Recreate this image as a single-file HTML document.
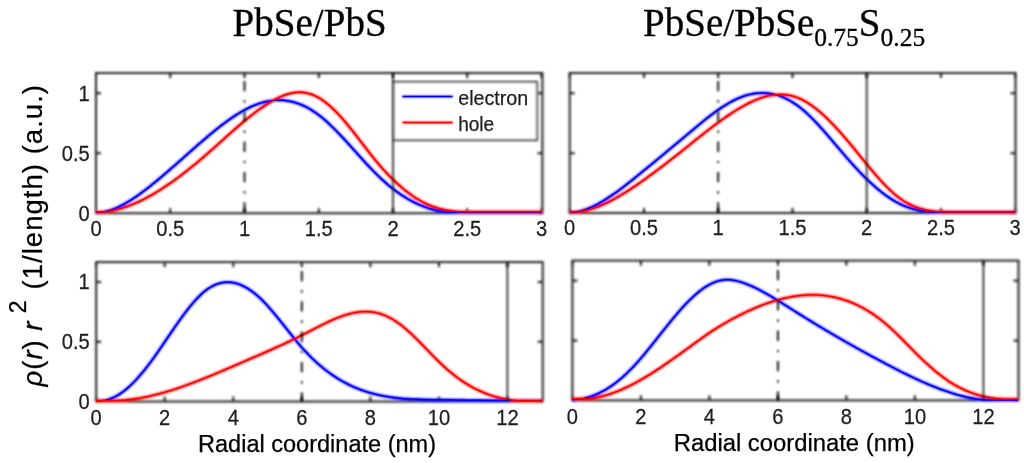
<!DOCTYPE html>
<html><head><meta charset="utf-8"><title>Radial probability densities</title>
<style>html,body{margin:0;padding:0;background:#fff;} svg{display:block;}</style></head>
<body>
<svg width="1024" height="463" viewBox="0 0 1024 463">
<defs><filter id="soft" x="-2%" y="-2%" width="104%" height="104%"><feGaussianBlur stdDeviation="0.8"/></filter></defs>
<rect width="1024" height="463" fill="#fff"/>
<g filter="url(#soft)">
<line x1="96.0" y1="213.2" x2="96.0" y2="208.2" stroke="#1a1a1a" stroke-width="2"/>
<line x1="96.0" y1="73" x2="96.0" y2="78" stroke="#1a1a1a" stroke-width="2"/>
<line x1="170.2" y1="213.2" x2="170.2" y2="208.2" stroke="#1a1a1a" stroke-width="2"/>
<line x1="170.2" y1="73" x2="170.2" y2="78" stroke="#1a1a1a" stroke-width="2"/>
<line x1="244.5" y1="213.2" x2="244.5" y2="208.2" stroke="#1a1a1a" stroke-width="2"/>
<line x1="244.5" y1="73" x2="244.5" y2="78" stroke="#1a1a1a" stroke-width="2"/>
<line x1="318.8" y1="213.2" x2="318.8" y2="208.2" stroke="#1a1a1a" stroke-width="2"/>
<line x1="318.8" y1="73" x2="318.8" y2="78" stroke="#1a1a1a" stroke-width="2"/>
<line x1="393.0" y1="213.2" x2="393.0" y2="208.2" stroke="#1a1a1a" stroke-width="2"/>
<line x1="393.0" y1="73" x2="393.0" y2="78" stroke="#1a1a1a" stroke-width="2"/>
<line x1="467.2" y1="213.2" x2="467.2" y2="208.2" stroke="#1a1a1a" stroke-width="2"/>
<line x1="467.2" y1="73" x2="467.2" y2="78" stroke="#1a1a1a" stroke-width="2"/>
<line x1="541.5" y1="213.2" x2="541.5" y2="208.2" stroke="#1a1a1a" stroke-width="2"/>
<line x1="541.5" y1="73" x2="541.5" y2="78" stroke="#1a1a1a" stroke-width="2"/>
<line x1="96" y1="213.2" x2="101" y2="213.2" stroke="#1a1a1a" stroke-width="2"/>
<line x1="542.4" y1="213.2" x2="537.4" y2="213.2" stroke="#1a1a1a" stroke-width="2"/>
<line x1="96" y1="153.2" x2="101" y2="153.2" stroke="#1a1a1a" stroke-width="2"/>
<line x1="542.4" y1="153.2" x2="537.4" y2="153.2" stroke="#1a1a1a" stroke-width="2"/>
<line x1="96" y1="93.2" x2="101" y2="93.2" stroke="#1a1a1a" stroke-width="2"/>
<line x1="542.4" y1="93.2" x2="537.4" y2="93.2" stroke="#1a1a1a" stroke-width="2"/>
<rect x="96" y="73" width="446.4" height="140.2" fill="none" stroke="#1a1a1a" stroke-width="1.9"/>
<path d="M96.0,212.4 L97.5,212.4 L99.0,212.3 L100.5,212.2 L102.0,212.0 L103.5,211.8 L105.0,211.5 L106.5,211.1 L108.0,210.8 L109.5,210.3 L111.0,209.9 L112.5,209.3 L114.0,208.8 L115.5,208.2 L117.0,207.6 L118.5,206.9 L120.0,206.2 L121.5,205.4 L123.0,204.7 L124.5,203.8 L126.0,203.0 L127.5,202.1 L129.0,201.2 L130.5,200.3 L132.0,199.3 L133.5,198.4 L135.0,197.3 L136.5,196.3 L138.0,195.3 L139.5,194.2 L141.0,193.1 L142.5,192.0 L144.0,190.9 L145.5,189.7 L147.0,188.6 L148.5,187.4 L150.0,186.2 L151.5,185.0 L153.0,183.8 L154.5,182.6 L156.0,181.4 L157.5,180.1 L159.0,178.9 L160.5,177.6 L162.0,176.4 L163.5,175.1 L165.0,173.8 L166.5,172.5 L168.0,171.2 L169.5,169.9 L171.0,168.6 L172.5,167.3 L174.0,166.0 L175.5,164.7 L177.0,163.4 L178.5,162.0 L180.0,160.7 L181.5,159.4 L183.0,158.1 L184.5,156.7 L186.0,155.4 L187.5,154.1 L189.0,152.8 L190.5,151.4 L192.0,150.1 L193.5,148.8 L195.0,147.5 L196.5,146.1 L198.0,144.8 L199.5,143.5 L201.0,142.2 L202.5,140.9 L204.0,139.6 L205.5,138.4 L207.0,137.1 L208.5,135.8 L210.0,134.6 L211.5,133.3 L213.0,132.1 L214.5,130.9 L216.0,129.6 L217.5,128.4 L219.0,127.3 L220.5,126.1 L222.0,124.9 L223.5,123.8 L225.0,122.7 L226.5,121.6 L228.0,120.5 L229.5,119.4 L231.0,118.4 L232.5,117.4 L234.0,116.4 L235.5,115.4 L237.0,114.4 L238.5,113.5 L240.0,112.6 L241.5,111.7 L243.0,110.9 L244.5,110.0 L246.0,109.2 L247.5,108.5 L249.0,107.7 L250.5,107.0 L252.0,106.3 L253.5,105.7 L255.0,105.1 L256.5,104.5 L258.0,103.9 L259.5,103.4 L261.0,102.9 L262.5,102.5 L264.0,102.1 L265.5,101.7 L267.0,101.4 L268.5,101.1 L270.0,100.9 L271.5,100.6 L273.0,100.5 L274.5,100.3 L276.0,100.2 L277.5,100.2 L279.0,100.2 L280.5,100.2 L282.0,100.2 L283.5,100.3 L285.0,100.5 L286.5,100.7 L288.0,100.9 L289.5,101.2 L291.0,101.5 L292.5,101.8 L294.0,102.2 L295.5,102.7 L297.0,103.1 L298.5,103.7 L300.0,104.2 L301.5,104.8 L303.0,105.5 L304.5,106.2 L306.0,106.9 L307.5,107.7 L309.0,108.5 L310.5,109.4 L312.0,110.3 L313.5,111.3 L315.0,112.3 L316.5,113.4 L318.0,114.5 L319.5,115.6 L321.0,116.8 L322.5,118.0 L324.0,119.3 L325.5,120.6 L327.0,121.9 L328.5,123.3 L330.0,124.7 L331.5,126.2 L333.0,127.6 L334.5,129.1 L336.0,130.6 L337.5,132.2 L339.0,133.7 L340.5,135.3 L342.0,136.9 L343.5,138.5 L345.0,140.1 L346.5,141.7 L348.0,143.4 L349.5,145.0 L351.0,146.7 L352.5,148.4 L354.0,150.0 L355.5,151.7 L357.0,153.4 L358.5,155.0 L360.0,156.7 L361.5,158.3 L363.0,160.0 L364.5,161.6 L366.0,163.3 L367.5,164.9 L369.0,166.5 L370.5,168.1 L372.0,169.6 L373.5,171.2 L375.0,172.7 L376.5,174.2 L378.0,175.7 L379.5,177.1 L381.0,178.6 L382.5,179.9 L384.0,181.3 L385.5,182.6 L387.0,183.9 L388.5,185.2 L390.0,186.4 L391.5,187.6 L393.0,188.8 L394.5,190.0 L396.0,191.1 L397.5,192.2 L399.0,193.2 L400.5,194.3 L402.0,195.3 L403.5,196.2 L405.0,197.2 L406.5,198.1 L408.0,199.0 L409.5,199.8 L411.0,200.7 L412.5,201.5 L414.0,202.2 L415.5,203.0 L417.0,203.7 L418.5,204.4 L420.0,205.0 L421.5,205.6 L423.0,206.2 L424.5,206.8 L426.0,207.3 L427.5,207.9 L429.0,208.4 L430.5,208.8 L432.0,209.2 L433.5,209.7 L435.0,210.0 L436.5,210.4 L438.0,210.7 L439.5,211.0 L441.0,211.3 L442.5,211.5 L444.0,211.8 L445.5,212.0 L447.0,212.2 L448.5,212.3 L450.0,212.4 L451.5,212.4 L453.0,212.4 L454.5,212.4 L456.0,212.4 L457.5,212.4 L459.0,212.4 L460.5,212.4 L462.0,212.4 L463.5,212.4 L465.0,212.4 L466.5,212.4 L468.0,212.4 L469.5,212.4 L471.0,212.4 L472.5,212.4 L474.0,212.4 L475.5,212.4 L477.0,212.4 L478.5,212.4 L480.0,212.4 L481.5,212.4 L483.0,212.4 L484.5,212.4 L486.0,212.4 L487.5,212.4 L489.0,212.4 L490.5,212.4 L492.0,212.4 L493.5,212.4 L495.0,212.4 L496.5,212.4 L498.0,212.4 L499.5,212.4 L501.0,212.4 L502.5,212.4 L504.0,212.4 L505.5,212.4 L507.0,212.4 L508.5,212.4 L510.0,212.4 L511.5,212.4 L513.0,212.4 L514.5,212.4 L516.0,212.4 L517.5,212.4 L519.0,212.4 L520.5,212.4 L522.0,212.4 L523.5,212.4 L525.0,212.4 L526.5,212.4 L528.0,212.4 L529.5,212.4 L531.0,212.4 L532.5,212.4 L534.0,212.4 L535.5,212.4 L537.0,212.4 L538.5,212.4 L540.0,212.4 L541.5,212.4 L542.0,212.4" fill="none" stroke="#0000ff" stroke-width="2.6" stroke-linejoin="round" />
<path d="M96.0,212.0 L97.5,212.0 L99.0,212.0 L100.5,212.0 L102.0,212.0 L103.5,212.0 L105.0,211.8 L106.5,211.6 L108.0,211.4 L109.5,211.1 L111.0,210.8 L112.5,210.5 L114.0,210.2 L115.5,209.9 L117.0,209.5 L118.5,209.1 L120.0,208.7 L121.5,208.3 L123.0,207.8 L124.5,207.3 L126.0,206.8 L127.5,206.3 L129.0,205.7 L130.5,205.2 L132.0,204.6 L133.5,203.9 L135.0,203.3 L136.5,202.7 L138.0,202.0 L139.5,201.3 L141.0,200.6 L142.5,199.8 L144.0,199.1 L145.5,198.3 L147.0,197.5 L148.5,196.7 L150.0,195.9 L151.5,195.1 L153.0,194.2 L154.5,193.3 L156.0,192.4 L157.5,191.5 L159.0,190.6 L160.5,189.6 L162.0,188.7 L163.5,187.7 L165.0,186.7 L166.5,185.7 L168.0,184.7 L169.5,183.7 L171.0,182.6 L172.5,181.6 L174.0,180.5 L175.5,179.4 L177.0,178.3 L178.5,177.2 L180.0,176.1 L181.5,174.9 L183.0,173.8 L184.5,172.6 L186.0,171.4 L187.5,170.2 L189.0,169.1 L190.5,167.8 L192.0,166.6 L193.5,165.4 L195.0,164.2 L196.5,162.9 L198.0,161.7 L199.5,160.4 L201.0,159.1 L202.5,157.9 L204.0,156.6 L205.5,155.3 L207.0,154.0 L208.5,152.6 L210.0,151.3 L211.5,150.0 L213.0,148.7 L214.5,147.3 L216.0,146.0 L217.5,144.7 L219.0,143.3 L220.5,142.0 L222.0,140.6 L223.5,139.3 L225.0,137.9 L226.5,136.6 L228.0,135.2 L229.5,133.9 L231.0,132.5 L232.5,131.2 L234.0,129.9 L235.5,128.6 L237.0,127.3 L238.5,126.0 L240.0,124.7 L241.5,123.4 L243.0,122.1 L244.5,120.9 L246.0,119.6 L247.5,118.4 L249.0,117.2 L250.5,116.0 L252.0,114.8 L253.5,113.7 L255.0,112.5 L256.5,111.4 L258.0,110.3 L259.5,109.2 L261.0,108.1 L262.5,107.1 L264.0,106.1 L265.5,105.1 L267.0,104.1 L268.5,103.2 L270.0,102.3 L271.5,101.4 L273.0,100.5 L274.5,99.7 L276.0,98.9 L277.5,98.2 L279.0,97.4 L280.5,96.8 L282.0,96.1 L283.5,95.5 L285.0,95.0 L286.5,94.5 L288.0,94.0 L289.5,93.6 L291.0,93.3 L292.5,93.0 L294.0,92.7 L295.5,92.5 L297.0,92.4 L298.5,92.3 L300.0,92.3 L301.5,92.3 L303.0,92.4 L304.5,92.6 L306.0,92.9 L307.5,93.2 L309.0,93.6 L310.5,94.0 L312.0,94.5 L313.5,95.1 L315.0,95.8 L316.5,96.6 L318.0,97.4 L319.5,98.2 L321.0,99.2 L322.5,100.2 L324.0,101.3 L325.5,102.4 L327.0,103.6 L328.5,104.8 L330.0,106.1 L331.5,107.5 L333.0,108.9 L334.5,110.3 L336.0,111.8 L337.5,113.4 L339.0,114.9 L340.5,116.6 L342.0,118.2 L343.5,119.9 L345.0,121.7 L346.5,123.5 L348.0,125.3 L349.5,127.1 L351.0,129.0 L352.5,130.9 L354.0,132.8 L355.5,134.7 L357.0,136.6 L358.5,138.6 L360.0,140.6 L361.5,142.5 L363.0,144.5 L364.5,146.4 L366.0,148.4 L367.5,150.3 L369.0,152.2 L370.5,154.2 L372.0,156.0 L373.5,157.9 L375.0,159.7 L376.5,161.6 L378.0,163.3 L379.5,165.1 L381.0,166.8 L382.5,168.5 L384.0,170.2 L385.5,171.8 L387.0,173.4 L388.5,175.0 L390.0,176.5 L391.5,178.0 L393.0,179.5 L394.5,181.0 L396.0,182.4 L397.5,183.8 L399.0,185.1 L400.5,186.4 L402.0,187.7 L403.5,189.0 L405.0,190.2 L406.5,191.4 L408.0,192.5 L409.5,193.7 L411.0,194.7 L412.5,195.8 L414.0,196.8 L415.5,197.8 L417.0,198.7 L418.5,199.6 L420.0,200.5 L421.5,201.4 L423.0,202.2 L424.5,202.9 L426.0,203.7 L427.5,204.3 L429.0,205.0 L430.5,205.6 L432.0,206.2 L433.5,206.7 L435.0,207.2 L436.5,207.7 L438.0,208.2 L439.5,208.6 L441.0,209.0 L442.5,209.3 L444.0,209.6 L445.5,209.9 L447.0,210.2 L448.5,210.5 L450.0,210.7 L451.5,210.9 L453.0,211.1 L454.5,211.2 L456.0,211.4 L457.5,211.5 L459.0,211.6 L460.5,211.7 L462.0,211.8 L463.5,211.8 L465.0,211.9 L466.5,211.9 L468.0,211.9 L469.5,211.9 L471.0,211.9 L472.5,211.9 L474.0,211.9 L475.5,211.9 L477.0,211.9 L478.5,211.9 L480.0,211.9 L481.5,211.9 L483.0,211.9 L484.5,211.9 L486.0,211.9 L487.5,211.9 L489.0,211.9 L490.5,211.9 L492.0,211.9 L493.5,211.9 L495.0,211.9 L496.5,211.9 L498.0,211.9 L499.5,211.9 L501.0,211.9 L502.5,211.9 L504.0,211.9 L505.5,211.9 L507.0,211.9 L508.5,211.9 L510.0,211.9 L511.5,211.9 L513.0,211.9 L514.5,211.9 L516.0,211.9 L517.5,211.9 L519.0,211.9 L520.5,211.9 L522.0,211.9 L523.5,211.9 L525.0,211.9 L526.5,211.9 L528.0,211.9 L529.5,211.9 L531.0,211.9 L532.5,211.9 L534.0,211.9 L535.5,211.9 L537.0,211.9 L538.5,211.9 L540.0,211.9 L541.5,211.9 L542.0,211.9" fill="none" stroke="#ff0000" stroke-width="2.6" stroke-linejoin="round" />
<line x1="569.7" y1="213.0" x2="569.7" y2="208.0" stroke="#1a1a1a" stroke-width="2"/>
<line x1="569.7" y1="73" x2="569.7" y2="78" stroke="#1a1a1a" stroke-width="2"/>
<line x1="644.0" y1="213.0" x2="644.0" y2="208.0" stroke="#1a1a1a" stroke-width="2"/>
<line x1="644.0" y1="73" x2="644.0" y2="78" stroke="#1a1a1a" stroke-width="2"/>
<line x1="718.2" y1="213.0" x2="718.2" y2="208.0" stroke="#1a1a1a" stroke-width="2"/>
<line x1="718.2" y1="73" x2="718.2" y2="78" stroke="#1a1a1a" stroke-width="2"/>
<line x1="792.5" y1="213.0" x2="792.5" y2="208.0" stroke="#1a1a1a" stroke-width="2"/>
<line x1="792.5" y1="73" x2="792.5" y2="78" stroke="#1a1a1a" stroke-width="2"/>
<line x1="866.7" y1="213.0" x2="866.7" y2="208.0" stroke="#1a1a1a" stroke-width="2"/>
<line x1="866.7" y1="73" x2="866.7" y2="78" stroke="#1a1a1a" stroke-width="2"/>
<line x1="941.0" y1="213.0" x2="941.0" y2="208.0" stroke="#1a1a1a" stroke-width="2"/>
<line x1="941.0" y1="73" x2="941.0" y2="78" stroke="#1a1a1a" stroke-width="2"/>
<line x1="1015.2" y1="213.0" x2="1015.2" y2="208.0" stroke="#1a1a1a" stroke-width="2"/>
<line x1="1015.2" y1="73" x2="1015.2" y2="78" stroke="#1a1a1a" stroke-width="2"/>
<line x1="569.7" y1="213.2" x2="574.7" y2="213.2" stroke="#1a1a1a" stroke-width="2"/>
<line x1="1015.5" y1="213.2" x2="1010.5" y2="213.2" stroke="#1a1a1a" stroke-width="2"/>
<line x1="569.7" y1="153.2" x2="574.7" y2="153.2" stroke="#1a1a1a" stroke-width="2"/>
<line x1="1015.5" y1="153.2" x2="1010.5" y2="153.2" stroke="#1a1a1a" stroke-width="2"/>
<line x1="569.7" y1="93.2" x2="574.7" y2="93.2" stroke="#1a1a1a" stroke-width="2"/>
<line x1="1015.5" y1="93.2" x2="1010.5" y2="93.2" stroke="#1a1a1a" stroke-width="2"/>
<rect x="569.7" y="73" width="445.79999999999995" height="140.0" fill="none" stroke="#1a1a1a" stroke-width="1.9"/>
<path d="M570.0,212.0 L571.5,212.0 L573.0,212.0 L574.5,212.0 L576.0,212.0 L577.5,211.8 L579.0,211.4 L580.5,211.0 L582.0,210.6 L583.5,210.1 L585.0,209.6 L586.5,209.1 L588.0,208.5 L589.5,207.9 L591.0,207.3 L592.5,206.6 L594.0,205.9 L595.5,205.1 L597.0,204.4 L598.5,203.6 L600.0,202.7 L601.5,201.9 L603.0,201.0 L604.5,200.1 L606.0,199.2 L607.5,198.2 L609.0,197.2 L610.5,196.2 L612.0,195.2 L613.5,194.2 L615.0,193.1 L616.5,192.1 L618.0,191.0 L619.5,189.9 L621.0,188.7 L622.5,187.6 L624.0,186.5 L625.5,185.3 L627.0,184.1 L628.5,182.9 L630.0,181.8 L631.5,180.6 L633.0,179.4 L634.5,178.1 L636.0,176.9 L637.5,175.7 L639.0,174.5 L640.5,173.3 L642.0,172.0 L643.5,170.8 L645.0,169.6 L646.5,168.4 L648.0,167.1 L649.5,165.9 L651.0,164.7 L652.5,163.4 L654.0,162.2 L655.5,161.0 L657.0,159.7 L658.5,158.5 L660.0,157.2 L661.5,156.0 L663.0,154.8 L664.5,153.5 L666.0,152.3 L667.5,151.0 L669.0,149.8 L670.5,148.5 L672.0,147.3 L673.5,146.0 L675.0,144.8 L676.5,143.5 L678.0,142.3 L679.5,141.0 L681.0,139.8 L682.5,138.5 L684.0,137.2 L685.5,136.0 L687.0,134.7 L688.5,133.5 L690.0,132.2 L691.5,130.9 L693.0,129.7 L694.5,128.4 L696.0,127.2 L697.5,125.9 L699.0,124.7 L700.5,123.5 L702.0,122.2 L703.5,121.0 L705.0,119.8 L706.5,118.6 L708.0,117.4 L709.5,116.3 L711.0,115.1 L712.5,114.0 L714.0,112.9 L715.5,111.8 L717.0,110.7 L718.5,109.7 L720.0,108.6 L721.5,107.6 L723.0,106.6 L724.5,105.7 L726.0,104.8 L727.5,103.9 L729.0,103.0 L730.5,102.1 L732.0,101.3 L733.5,100.5 L735.0,99.8 L736.5,99.1 L738.0,98.4 L739.5,97.8 L741.0,97.2 L742.5,96.6 L744.0,96.1 L745.5,95.6 L747.0,95.1 L748.5,94.7 L750.0,94.4 L751.5,94.1 L753.0,93.8 L754.5,93.5 L756.0,93.3 L757.5,93.2 L759.0,93.1 L760.5,93.0 L762.0,93.0 L763.5,93.0 L765.0,93.0 L766.5,93.1 L768.0,93.3 L769.5,93.5 L771.0,93.7 L772.5,94.0 L774.0,94.3 L775.5,94.7 L777.0,95.1 L778.5,95.5 L780.0,96.1 L781.5,96.6 L783.0,97.2 L784.5,97.9 L786.0,98.6 L787.5,99.3 L789.0,100.1 L790.5,101.0 L792.0,101.8 L793.5,102.8 L795.0,103.8 L796.5,104.8 L798.0,105.9 L799.5,107.1 L801.0,108.3 L802.5,109.5 L804.0,110.8 L805.5,112.1 L807.0,113.5 L808.5,114.9 L810.0,116.3 L811.5,117.8 L813.0,119.3 L814.5,120.8 L816.0,122.4 L817.5,124.0 L819.0,125.6 L820.5,127.3 L822.0,128.9 L823.5,130.6 L825.0,132.3 L826.5,134.0 L828.0,135.8 L829.5,137.5 L831.0,139.3 L832.5,141.0 L834.0,142.8 L835.5,144.6 L837.0,146.3 L838.5,148.1 L840.0,149.9 L841.5,151.6 L843.0,153.4 L844.5,155.1 L846.0,156.9 L847.5,158.6 L849.0,160.3 L850.5,162.0 L852.0,163.7 L853.5,165.3 L855.0,167.0 L856.5,168.6 L858.0,170.2 L859.5,171.8 L861.0,173.3 L862.5,174.9 L864.0,176.4 L865.5,177.9 L867.0,179.3 L868.5,180.8 L870.0,182.2 L871.5,183.6 L873.0,184.9 L874.5,186.3 L876.0,187.6 L877.5,188.9 L879.0,190.1 L880.5,191.3 L882.0,192.5 L883.5,193.6 L885.0,194.8 L886.5,195.8 L888.0,196.9 L889.5,197.9 L891.0,198.9 L892.5,199.8 L894.0,200.7 L895.5,201.6 L897.0,202.4 L898.5,203.2 L900.0,204.0 L901.5,204.7 L903.0,205.4 L904.5,206.0 L906.0,206.6 L907.5,207.2 L909.0,207.7 L910.5,208.2 L912.0,208.6 L913.5,209.1 L915.0,209.4 L916.5,209.8 L918.0,210.1 L919.5,210.5 L921.0,210.7 L922.5,211.0 L924.0,211.2 L925.5,211.4 L927.0,211.6 L928.5,211.8 L930.0,211.9 L931.5,212.0 L933.0,212.0 L934.5,212.0 L936.0,212.0 L937.5,212.0 L939.0,212.0 L940.5,212.0 L942.0,212.0 L943.5,212.0 L945.0,212.0 L946.5,212.0 L948.0,212.0 L949.5,212.0 L951.0,212.0 L952.5,212.0 L954.0,212.0 L955.5,212.0 L957.0,212.0 L958.5,212.0 L960.0,212.0 L961.5,212.0 L963.0,212.0 L964.5,212.0 L966.0,212.0 L967.5,212.0 L969.0,212.0 L970.5,212.0 L972.0,212.0 L973.5,212.0 L975.0,212.0 L976.5,212.0 L978.0,212.0 L979.5,212.0 L981.0,212.0 L982.5,212.0 L984.0,212.0 L985.5,212.0 L987.0,212.0 L988.5,212.0 L990.0,212.0 L991.5,212.0 L993.0,212.0 L994.5,212.0 L996.0,212.0 L997.5,212.0 L999.0,212.0 L1000.5,212.0 L1002.0,212.0 L1003.5,212.0 L1005.0,212.0 L1006.5,212.0 L1008.0,212.0 L1009.5,212.0 L1011.0,212.0 L1012.5,212.0 L1014.0,212.0 L1015.0,212.0" fill="none" stroke="#0000ff" stroke-width="2.6" stroke-linejoin="round" />
<path d="M570.0,212.0 L571.5,212.0 L573.0,212.0 L574.5,212.0 L576.0,211.9 L577.5,211.8 L579.0,211.6 L580.5,211.4 L582.0,211.2 L583.5,210.9 L585.0,210.6 L586.5,210.3 L588.0,209.9 L589.5,209.5 L591.0,209.1 L592.5,208.6 L594.0,208.1 L595.5,207.6 L597.0,207.0 L598.5,206.5 L600.0,205.9 L601.5,205.2 L603.0,204.6 L604.5,203.9 L606.0,203.2 L607.5,202.5 L609.0,201.7 L610.5,201.0 L612.0,200.2 L613.5,199.4 L615.0,198.5 L616.5,197.7 L618.0,196.8 L619.5,195.9 L621.0,195.0 L622.5,194.1 L624.0,193.2 L625.5,192.3 L627.0,191.3 L628.5,190.3 L630.0,189.4 L631.5,188.4 L633.0,187.4 L634.5,186.4 L636.0,185.4 L637.5,184.3 L639.0,183.3 L640.5,182.3 L642.0,181.2 L643.5,180.1 L645.0,179.1 L646.5,178.0 L648.0,176.9 L649.5,175.8 L651.0,174.7 L652.5,173.6 L654.0,172.5 L655.5,171.4 L657.0,170.3 L658.5,169.2 L660.0,168.0 L661.5,166.9 L663.0,165.8 L664.5,164.6 L666.0,163.5 L667.5,162.3 L669.0,161.1 L670.5,160.0 L672.0,158.8 L673.5,157.6 L675.0,156.4 L676.5,155.2 L678.0,154.1 L679.5,152.9 L681.0,151.7 L682.5,150.5 L684.0,149.3 L685.5,148.1 L687.0,146.9 L688.5,145.7 L690.0,144.5 L691.5,143.3 L693.0,142.0 L694.5,140.8 L696.0,139.6 L697.5,138.5 L699.0,137.3 L700.5,136.1 L702.0,134.9 L703.5,133.7 L705.0,132.5 L706.5,131.4 L708.0,130.2 L709.5,129.0 L711.0,127.9 L712.5,126.8 L714.0,125.6 L715.5,124.5 L717.0,123.4 L718.5,122.3 L720.0,121.2 L721.5,120.1 L723.0,119.0 L724.5,118.0 L726.0,116.9 L727.5,115.9 L729.0,114.9 L730.5,113.9 L732.0,112.9 L733.5,111.9 L735.0,111.0 L736.5,110.0 L738.0,109.1 L739.5,108.2 L741.0,107.3 L742.5,106.5 L744.0,105.6 L745.5,104.8 L747.0,104.0 L748.5,103.2 L750.0,102.5 L751.5,101.8 L753.0,101.1 L754.5,100.4 L756.0,99.8 L757.5,99.2 L759.0,98.6 L760.5,98.1 L762.0,97.6 L763.5,97.1 L765.0,96.7 L766.5,96.3 L768.0,95.9 L769.5,95.6 L771.0,95.3 L772.5,95.1 L774.0,94.9 L775.5,94.7 L777.0,94.6 L778.5,94.5 L780.0,94.5 L781.5,94.5 L783.0,94.5 L784.5,94.6 L786.0,94.8 L787.5,95.0 L789.0,95.2 L790.5,95.5 L792.0,95.9 L793.5,96.3 L795.0,96.8 L796.5,97.3 L798.0,97.9 L799.5,98.5 L801.0,99.2 L802.5,99.9 L804.0,100.7 L805.5,101.5 L807.0,102.4 L808.5,103.3 L810.0,104.3 L811.5,105.4 L813.0,106.4 L814.5,107.5 L816.0,108.7 L817.5,109.9 L819.0,111.1 L820.5,112.4 L822.0,113.7 L823.5,115.1 L825.0,116.5 L826.5,117.9 L828.0,119.4 L829.5,120.9 L831.0,122.4 L832.5,123.9 L834.0,125.5 L835.5,127.1 L837.0,128.7 L838.5,130.4 L840.0,132.0 L841.5,133.7 L843.0,135.5 L844.5,137.2 L846.0,139.0 L847.5,140.7 L849.0,142.5 L850.5,144.3 L852.0,146.1 L853.5,147.9 L855.0,149.8 L856.5,151.6 L858.0,153.5 L859.5,155.3 L861.0,157.2 L862.5,159.0 L864.0,160.8 L865.5,162.7 L867.0,164.5 L868.5,166.3 L870.0,168.1 L871.5,169.9 L873.0,171.7 L874.5,173.5 L876.0,175.2 L877.5,176.9 L879.0,178.6 L880.5,180.3 L882.0,181.9 L883.5,183.5 L885.0,185.1 L886.5,186.6 L888.0,188.1 L889.5,189.5 L891.0,191.0 L892.5,192.3 L894.0,193.7 L895.5,194.9 L897.0,196.2 L898.5,197.3 L900.0,198.4 L901.5,199.5 L903.0,200.5 L904.5,201.5 L906.0,202.4 L907.5,203.2 L909.0,204.0 L910.5,204.7 L912.0,205.4 L913.5,206.1 L915.0,206.7 L916.5,207.3 L918.0,207.8 L919.5,208.3 L921.0,208.7 L922.5,209.1 L924.0,209.5 L925.5,209.9 L927.0,210.2 L928.5,210.4 L930.0,210.7 L931.5,210.9 L933.0,211.1 L934.5,211.3 L936.0,211.4 L937.5,211.6 L939.0,211.7 L940.5,211.8 L942.0,211.8 L943.5,211.9 L945.0,211.9 L946.5,212.0 L948.0,212.0 L949.5,212.0 L951.0,212.0 L952.5,212.0 L954.0,212.0 L955.5,212.0 L957.0,212.0 L958.5,212.0 L960.0,212.0 L961.5,212.0 L963.0,212.0 L964.5,212.0 L966.0,212.0 L967.5,212.0 L969.0,212.0 L970.5,212.0 L972.0,212.0 L973.5,212.0 L975.0,212.0 L976.5,212.0 L978.0,212.0 L979.5,212.0 L981.0,212.0 L982.5,212.0 L984.0,212.0 L985.5,212.0 L987.0,212.0 L988.5,212.0 L990.0,212.0 L991.5,212.0 L993.0,212.0 L994.5,212.0 L996.0,212.0 L997.5,212.0 L999.0,212.0 L1000.5,212.0 L1002.0,212.0 L1003.5,212.0 L1005.0,212.0 L1006.5,212.0 L1008.0,212.0 L1009.5,212.0 L1011.0,212.0 L1012.5,212.0 L1014.0,212.0 L1015.0,212.0" fill="none" stroke="#ff0000" stroke-width="2.6" stroke-linejoin="round" />
<line x1="96.2" y1="401.5" x2="96.2" y2="396.5" stroke="#1a1a1a" stroke-width="2"/>
<line x1="96.2" y1="262.1" x2="96.2" y2="267.1" stroke="#1a1a1a" stroke-width="2"/>
<line x1="164.7" y1="401.5" x2="164.7" y2="396.5" stroke="#1a1a1a" stroke-width="2"/>
<line x1="164.7" y1="262.1" x2="164.7" y2="267.1" stroke="#1a1a1a" stroke-width="2"/>
<line x1="233.3" y1="401.5" x2="233.3" y2="396.5" stroke="#1a1a1a" stroke-width="2"/>
<line x1="233.3" y1="262.1" x2="233.3" y2="267.1" stroke="#1a1a1a" stroke-width="2"/>
<line x1="301.8" y1="401.5" x2="301.8" y2="396.5" stroke="#1a1a1a" stroke-width="2"/>
<line x1="301.8" y1="262.1" x2="301.8" y2="267.1" stroke="#1a1a1a" stroke-width="2"/>
<line x1="370.4" y1="401.5" x2="370.4" y2="396.5" stroke="#1a1a1a" stroke-width="2"/>
<line x1="370.4" y1="262.1" x2="370.4" y2="267.1" stroke="#1a1a1a" stroke-width="2"/>
<line x1="438.9" y1="401.5" x2="438.9" y2="396.5" stroke="#1a1a1a" stroke-width="2"/>
<line x1="438.9" y1="262.1" x2="438.9" y2="267.1" stroke="#1a1a1a" stroke-width="2"/>
<line x1="507.4" y1="401.5" x2="507.4" y2="396.5" stroke="#1a1a1a" stroke-width="2"/>
<line x1="507.4" y1="262.1" x2="507.4" y2="267.1" stroke="#1a1a1a" stroke-width="2"/>
<line x1="96.2" y1="401.5" x2="101.2" y2="401.5" stroke="#1a1a1a" stroke-width="2"/>
<line x1="542.7" y1="401.5" x2="537.7" y2="401.5" stroke="#1a1a1a" stroke-width="2"/>
<line x1="96.2" y1="341.8" x2="101.2" y2="341.8" stroke="#1a1a1a" stroke-width="2"/>
<line x1="542.7" y1="341.8" x2="537.7" y2="341.8" stroke="#1a1a1a" stroke-width="2"/>
<line x1="96.2" y1="282.0" x2="101.2" y2="282.0" stroke="#1a1a1a" stroke-width="2"/>
<line x1="542.7" y1="282.0" x2="537.7" y2="282.0" stroke="#1a1a1a" stroke-width="2"/>
<rect x="96.2" y="262.1" width="446.50000000000006" height="139.39999999999998" fill="none" stroke="#1a1a1a" stroke-width="1.9"/>
<path d="M96.0,400.6 L97.5,400.6 L99.0,400.6 L100.5,400.6 L102.0,400.6 L103.5,400.4 L105.0,400.2 L106.5,399.9 L108.0,399.5 L109.5,399.1 L111.0,398.5 L112.5,397.9 L114.0,397.3 L115.5,396.5 L117.0,395.7 L118.5,394.8 L120.0,393.8 L121.5,392.8 L123.0,391.7 L124.5,390.6 L126.0,389.4 L127.5,388.1 L129.0,386.8 L130.5,385.4 L132.0,383.9 L133.5,382.4 L135.0,380.9 L136.5,379.3 L138.0,377.6 L139.5,375.9 L141.0,374.2 L142.5,372.4 L144.0,370.6 L145.5,368.7 L147.0,366.8 L148.5,364.8 L150.0,362.9 L151.5,360.8 L153.0,358.8 L154.5,356.7 L156.0,354.6 L157.5,352.4 L159.0,350.3 L160.5,348.1 L162.0,345.9 L163.5,343.7 L165.0,341.5 L166.5,339.3 L168.0,337.1 L169.5,334.9 L171.0,332.7 L172.5,330.5 L174.0,328.3 L175.5,326.1 L177.0,324.0 L178.5,321.8 L180.0,319.7 L181.5,317.7 L183.0,315.6 L184.5,313.6 L186.0,311.6 L187.5,309.7 L189.0,307.8 L190.5,305.9 L192.0,304.1 L193.5,302.4 L195.0,300.7 L196.5,299.0 L198.0,297.5 L199.5,296.0 L201.0,294.5 L202.5,293.1 L204.0,291.8 L205.5,290.6 L207.0,289.5 L208.5,288.4 L210.0,287.5 L211.5,286.6 L213.0,285.8 L214.5,285.1 L216.0,284.4 L217.5,283.9 L219.0,283.4 L220.5,283.0 L222.0,282.7 L223.5,282.5 L225.0,282.3 L226.5,282.2 L228.0,282.2 L229.5,282.2 L231.0,282.4 L232.5,282.6 L234.0,282.8 L235.5,283.2 L237.0,283.6 L238.5,284.1 L240.0,284.6 L241.5,285.3 L243.0,286.0 L244.5,286.7 L246.0,287.5 L247.5,288.4 L249.0,289.3 L250.5,290.3 L252.0,291.4 L253.5,292.5 L255.0,293.7 L256.5,295.0 L258.0,296.3 L259.5,297.6 L261.0,299.0 L262.5,300.5 L264.0,302.0 L265.5,303.6 L267.0,305.2 L268.5,306.9 L270.0,308.6 L271.5,310.3 L273.0,312.0 L274.5,313.8 L276.0,315.6 L277.5,317.5 L279.0,319.3 L280.5,321.2 L282.0,323.1 L283.5,325.0 L285.0,326.9 L286.5,328.7 L288.0,330.6 L289.5,332.5 L291.0,334.4 L292.5,336.3 L294.0,338.1 L295.5,340.0 L297.0,341.8 L298.5,343.6 L300.0,345.3 L301.5,347.1 L303.0,348.8 L304.5,350.4 L306.0,352.0 L307.5,353.6 L309.0,355.2 L310.5,356.7 L312.0,358.2 L313.5,359.6 L315.0,361.0 L316.5,362.4 L318.0,363.7 L319.5,365.1 L321.0,366.3 L322.5,367.6 L324.0,368.8 L325.5,370.0 L327.0,371.1 L328.5,372.2 L330.0,373.3 L331.5,374.4 L333.0,375.4 L334.5,376.4 L336.0,377.4 L337.5,378.4 L339.0,379.3 L340.5,380.2 L342.0,381.0 L343.5,381.9 L345.0,382.7 L346.5,383.5 L348.0,384.2 L349.5,385.0 L351.0,385.7 L352.5,386.4 L354.0,387.0 L355.5,387.7 L357.0,388.3 L358.5,388.9 L360.0,389.5 L361.5,390.0 L363.0,390.6 L364.5,391.1 L366.0,391.6 L367.5,392.0 L369.0,392.5 L370.5,392.9 L372.0,393.3 L373.5,393.7 L375.0,394.1 L376.5,394.5 L378.0,394.8 L379.5,395.2 L381.0,395.5 L382.5,395.8 L384.0,396.1 L385.5,396.3 L387.0,396.6 L388.5,396.8 L390.0,397.1 L391.5,397.3 L393.0,397.5 L394.5,397.7 L396.0,397.8 L397.5,398.0 L399.0,398.2 L400.5,398.3 L402.0,398.5 L403.5,398.6 L405.0,398.7 L406.5,398.8 L408.0,398.9 L409.5,399.0 L411.0,399.1 L412.5,399.2 L414.0,399.2 L415.5,399.3 L417.0,399.3 L418.5,399.4 L420.0,399.4 L421.5,399.5 L423.0,399.5 L424.5,399.6 L426.0,399.6 L427.5,399.6 L429.0,399.6 L430.5,399.7 L432.0,399.7 L433.5,399.7 L435.0,399.7 L436.5,399.8 L438.0,399.8 L439.5,399.8 L441.0,399.8 L442.5,399.8 L444.0,399.9 L445.5,399.9 L447.0,399.9 L448.5,399.9 L450.0,399.9 L451.5,400.0 L453.0,400.0 L454.5,400.0 L456.0,400.0 L457.5,400.0 L459.0,400.1 L460.5,400.1 L462.0,400.1 L463.5,400.1 L465.0,400.1 L466.5,400.2 L468.0,400.2 L469.5,400.2 L471.0,400.2 L472.5,400.2 L474.0,400.3 L475.5,400.3 L477.0,400.3 L478.5,400.3 L480.0,400.3 L481.5,400.4 L483.0,400.4 L484.5,400.4 L486.0,400.4 L487.5,400.4 L489.0,400.4 L490.5,400.5 L492.0,400.5 L493.5,400.5 L495.0,400.5 L496.5,400.5 L498.0,400.5 L499.5,400.5 L501.0,400.5 L502.5,400.5 L504.0,400.5 L505.5,400.5 L507.0,400.6 L508.5,400.6 L510.0,400.6 L511.5,400.6 L513.0,400.6 L514.5,400.6 L516.0,400.6 L517.5,400.6 L519.0,400.6 L520.5,400.6 L522.0,400.6 L523.5,400.6 L525.0,400.6 L526.5,400.6 L528.0,400.6 L529.5,400.6 L531.0,400.6 L532.5,400.6 L534.0,400.6 L535.5,400.6 L537.0,400.6 L538.5,400.6 L540.0,400.6 L541.5,400.6 L542.0,400.6" fill="none" stroke="#0000ff" stroke-width="2.6" stroke-linejoin="round" />
<path d="M96.0,400.7 L97.5,400.7 L99.0,400.7 L100.5,400.7 L102.0,400.7 L103.5,400.7 L105.0,400.7 L106.5,400.7 L108.0,400.7 L109.5,400.7 L111.0,400.7 L112.5,400.7 L114.0,400.7 L115.5,400.6 L117.0,400.6 L118.5,400.5 L120.0,400.4 L121.5,400.3 L123.0,400.2 L124.5,400.1 L126.0,399.9 L127.5,399.8 L129.0,399.6 L130.5,399.4 L132.0,399.3 L133.5,399.1 L135.0,398.8 L136.5,398.6 L138.0,398.4 L139.5,398.1 L141.0,397.9 L142.5,397.6 L144.0,397.3 L145.5,397.0 L147.0,396.7 L148.5,396.4 L150.0,396.0 L151.5,395.7 L153.0,395.3 L154.5,395.0 L156.0,394.6 L157.5,394.2 L159.0,393.8 L160.5,393.4 L162.0,393.0 L163.5,392.6 L165.0,392.2 L166.5,391.7 L168.0,391.3 L169.5,390.8 L171.0,390.4 L172.5,389.9 L174.0,389.4 L175.5,388.9 L177.0,388.4 L178.5,387.9 L180.0,387.4 L181.5,386.9 L183.0,386.4 L184.5,385.8 L186.0,385.3 L187.5,384.8 L189.0,384.2 L190.5,383.7 L192.0,383.1 L193.5,382.5 L195.0,382.0 L196.5,381.4 L198.0,380.8 L199.5,380.2 L201.0,379.6 L202.5,379.0 L204.0,378.4 L205.5,377.8 L207.0,377.2 L208.5,376.6 L210.0,376.0 L211.5,375.4 L213.0,374.8 L214.5,374.1 L216.0,373.5 L217.5,372.9 L219.0,372.2 L220.5,371.6 L222.0,371.0 L223.5,370.3 L225.0,369.7 L226.5,369.0 L228.0,368.4 L229.5,367.7 L231.0,367.1 L232.5,366.5 L234.0,365.8 L235.5,365.2 L237.0,364.5 L238.5,363.9 L240.0,363.2 L241.5,362.6 L243.0,361.9 L244.5,361.3 L246.0,360.6 L247.5,360.0 L249.0,359.3 L250.5,358.7 L252.0,358.0 L253.5,357.4 L255.0,356.7 L256.5,356.1 L258.0,355.4 L259.5,354.8 L261.0,354.1 L262.5,353.5 L264.0,352.8 L265.5,352.2 L267.0,351.5 L268.5,350.8 L270.0,350.2 L271.5,349.5 L273.0,348.8 L274.5,348.2 L276.0,347.5 L277.5,346.8 L279.0,346.1 L280.5,345.4 L282.0,344.8 L283.5,344.1 L285.0,343.4 L286.5,342.7 L288.0,342.0 L289.5,341.3 L291.0,340.5 L292.5,339.8 L294.0,339.1 L295.5,338.4 L297.0,337.6 L298.5,336.9 L300.0,336.1 L301.5,335.4 L303.0,334.6 L304.5,333.9 L306.0,333.1 L307.5,332.3 L309.0,331.5 L310.5,330.8 L312.0,330.0 L313.5,329.2 L315.0,328.4 L316.5,327.6 L318.0,326.9 L319.5,326.1 L321.0,325.4 L322.5,324.6 L324.0,323.9 L325.5,323.1 L327.0,322.4 L328.5,321.7 L330.0,321.0 L331.5,320.4 L333.0,319.7 L334.5,319.0 L336.0,318.4 L337.5,317.8 L339.0,317.2 L340.5,316.7 L342.0,316.1 L343.5,315.6 L345.0,315.1 L346.5,314.7 L348.0,314.2 L349.5,313.8 L351.0,313.4 L352.5,313.1 L354.0,312.8 L355.5,312.5 L357.0,312.3 L358.5,312.1 L360.0,311.9 L361.5,311.8 L363.0,311.7 L364.5,311.6 L366.0,311.6 L367.5,311.6 L369.0,311.7 L370.5,311.8 L372.0,312.0 L373.5,312.2 L375.0,312.4 L376.5,312.8 L378.0,313.1 L379.5,313.5 L381.0,314.0 L382.5,314.5 L384.0,315.1 L385.5,315.7 L387.0,316.3 L388.5,317.1 L390.0,317.8 L391.5,318.7 L393.0,319.5 L394.5,320.5 L396.0,321.4 L397.5,322.5 L399.0,323.5 L400.5,324.6 L402.0,325.8 L403.5,327.0 L405.0,328.3 L406.5,329.5 L408.0,330.9 L409.5,332.2 L411.0,333.6 L412.5,335.0 L414.0,336.5 L415.5,337.9 L417.0,339.4 L418.5,340.9 L420.0,342.4 L421.5,344.0 L423.0,345.5 L424.5,347.0 L426.0,348.6 L427.5,350.1 L429.0,351.7 L430.5,353.2 L432.0,354.8 L433.5,356.3 L435.0,357.8 L436.5,359.3 L438.0,360.8 L439.5,362.3 L441.0,363.7 L442.5,365.2 L444.0,366.6 L445.5,367.9 L447.0,369.3 L448.5,370.6 L450.0,371.8 L451.5,373.1 L453.0,374.3 L454.5,375.5 L456.0,376.6 L457.5,377.7 L459.0,378.8 L460.5,379.9 L462.0,380.9 L463.5,381.9 L465.0,382.9 L466.5,383.8 L468.0,384.7 L469.5,385.6 L471.0,386.5 L472.5,387.3 L474.0,388.1 L475.5,388.9 L477.0,389.6 L478.5,390.3 L480.0,391.0 L481.5,391.7 L483.0,392.3 L484.5,393.0 L486.0,393.5 L487.5,394.1 L489.0,394.7 L490.5,395.2 L492.0,395.7 L493.5,396.1 L495.0,396.6 L496.5,397.0 L498.0,397.4 L499.5,397.8 L501.0,398.1 L502.5,398.4 L504.0,398.8 L505.5,399.0 L507.0,399.3 L508.5,399.5 L510.0,399.8 L511.5,400.0 L513.0,400.2 L514.5,400.3 L516.0,400.5 L517.5,400.6 L519.0,400.7 L520.5,400.7 L522.0,400.7 L523.5,400.7 L525.0,400.7 L526.5,400.7 L528.0,400.7 L529.5,400.7 L531.0,400.7 L532.5,400.7 L534.0,400.7 L535.5,400.7 L537.0,400.7 L538.5,400.7 L540.0,400.7 L541.5,400.7 L542.0,400.7" fill="none" stroke="#ff0000" stroke-width="2.6" stroke-linejoin="round" />
<line x1="572.4" y1="400.4" x2="572.4" y2="395.4" stroke="#1a1a1a" stroke-width="2"/>
<line x1="572.4" y1="260.6" x2="572.4" y2="265.6" stroke="#1a1a1a" stroke-width="2"/>
<line x1="640.9" y1="400.4" x2="640.9" y2="395.4" stroke="#1a1a1a" stroke-width="2"/>
<line x1="640.9" y1="260.6" x2="640.9" y2="265.6" stroke="#1a1a1a" stroke-width="2"/>
<line x1="709.4" y1="400.4" x2="709.4" y2="395.4" stroke="#1a1a1a" stroke-width="2"/>
<line x1="709.4" y1="260.6" x2="709.4" y2="265.6" stroke="#1a1a1a" stroke-width="2"/>
<line x1="777.9" y1="400.4" x2="777.9" y2="395.4" stroke="#1a1a1a" stroke-width="2"/>
<line x1="777.9" y1="260.6" x2="777.9" y2="265.6" stroke="#1a1a1a" stroke-width="2"/>
<line x1="846.4" y1="400.4" x2="846.4" y2="395.4" stroke="#1a1a1a" stroke-width="2"/>
<line x1="846.4" y1="260.6" x2="846.4" y2="265.6" stroke="#1a1a1a" stroke-width="2"/>
<line x1="914.9" y1="400.4" x2="914.9" y2="395.4" stroke="#1a1a1a" stroke-width="2"/>
<line x1="914.9" y1="260.6" x2="914.9" y2="265.6" stroke="#1a1a1a" stroke-width="2"/>
<line x1="983.4" y1="400.4" x2="983.4" y2="395.4" stroke="#1a1a1a" stroke-width="2"/>
<line x1="983.4" y1="260.6" x2="983.4" y2="265.6" stroke="#1a1a1a" stroke-width="2"/>
<line x1="572.4" y1="400.4" x2="577.4" y2="400.4" stroke="#1a1a1a" stroke-width="2"/>
<line x1="1018.5" y1="400.4" x2="1013.5" y2="400.4" stroke="#1a1a1a" stroke-width="2"/>
<line x1="572.4" y1="340.6" x2="577.4" y2="340.6" stroke="#1a1a1a" stroke-width="2"/>
<line x1="1018.5" y1="340.6" x2="1013.5" y2="340.6" stroke="#1a1a1a" stroke-width="2"/>
<line x1="572.4" y1="280.7" x2="577.4" y2="280.7" stroke="#1a1a1a" stroke-width="2"/>
<line x1="1018.5" y1="280.7" x2="1013.5" y2="280.7" stroke="#1a1a1a" stroke-width="2"/>
<rect x="572.4" y="260.6" width="446.1" height="139.79999999999995" fill="none" stroke="#1a1a1a" stroke-width="1.9"/>
<path d="M572.4,399.5 L573.9,399.5 L575.4,399.4 L576.9,399.3 L578.4,399.1 L579.9,399.0 L581.4,398.7 L582.9,398.5 L584.4,398.2 L585.9,397.8 L587.4,397.4 L588.9,397.0 L590.4,396.6 L591.9,396.1 L593.4,395.5 L594.9,394.9 L596.4,394.3 L597.9,393.7 L599.4,393.0 L600.9,392.2 L602.4,391.4 L603.9,390.6 L605.4,389.8 L606.9,388.9 L608.4,387.9 L609.9,387.0 L611.4,385.9 L612.9,384.9 L614.4,383.8 L615.9,382.7 L617.4,381.5 L618.9,380.3 L620.4,379.0 L621.9,377.8 L623.4,376.4 L624.9,375.1 L626.4,373.7 L627.9,372.2 L629.4,370.7 L630.9,369.2 L632.4,367.7 L633.9,366.1 L635.4,364.4 L636.9,362.8 L638.4,361.1 L639.9,359.4 L641.4,357.6 L642.9,355.9 L644.4,354.1 L645.9,352.3 L647.4,350.4 L648.9,348.6 L650.4,346.7 L651.9,344.9 L653.4,343.0 L654.9,341.1 L656.4,339.2 L657.9,337.3 L659.4,335.4 L660.9,333.5 L662.4,331.7 L663.9,329.8 L665.4,327.9 L666.9,326.0 L668.4,324.1 L669.9,322.3 L671.4,320.5 L672.9,318.6 L674.4,316.8 L675.9,315.1 L677.4,313.3 L678.9,311.6 L680.4,309.9 L681.9,308.2 L683.4,306.5 L684.9,304.9 L686.4,303.3 L687.9,301.8 L689.4,300.3 L690.9,298.8 L692.4,297.4 L693.9,296.0 L695.4,294.7 L696.9,293.4 L698.4,292.1 L699.9,290.9 L701.4,289.8 L702.9,288.7 L704.4,287.7 L705.9,286.7 L707.4,285.8 L708.9,284.9 L710.4,284.1 L711.9,283.4 L713.4,282.7 L714.9,282.1 L716.4,281.5 L717.9,281.1 L719.4,280.7 L720.9,280.3 L722.4,280.1 L723.9,279.9 L725.4,279.8 L726.9,279.7 L728.4,279.8 L729.9,279.8 L731.4,280.0 L732.9,280.2 L734.4,280.4 L735.9,280.7 L737.4,281.1 L738.9,281.4 L740.4,281.9 L741.9,282.3 L743.4,282.9 L744.9,283.4 L746.4,284.0 L747.9,284.6 L749.4,285.2 L750.9,285.8 L752.4,286.5 L753.9,287.2 L755.4,287.9 L756.9,288.6 L758.4,289.4 L759.9,290.2 L761.4,291.0 L762.9,291.8 L764.4,292.6 L765.9,293.4 L767.4,294.3 L768.9,295.2 L770.4,296.0 L771.9,296.9 L773.4,297.8 L774.9,298.7 L776.4,299.6 L777.9,300.6 L779.4,301.5 L780.9,302.4 L782.4,303.4 L783.9,304.3 L785.4,305.3 L786.9,306.2 L788.4,307.2 L789.9,308.1 L791.4,309.1 L792.9,310.0 L794.4,311.0 L795.9,311.9 L797.4,312.9 L798.9,313.8 L800.4,314.7 L801.9,315.7 L803.4,316.6 L804.9,317.5 L806.4,318.5 L807.9,319.4 L809.4,320.3 L810.9,321.2 L812.4,322.1 L813.9,323.1 L815.4,324.0 L816.9,324.9 L818.4,325.8 L819.9,326.7 L821.4,327.6 L822.9,328.5 L824.4,329.4 L825.9,330.3 L827.4,331.2 L828.9,332.0 L830.4,332.9 L831.9,333.8 L833.4,334.7 L834.9,335.6 L836.4,336.4 L837.9,337.3 L839.4,338.2 L840.9,339.0 L842.4,339.9 L843.9,340.8 L845.4,341.6 L846.9,342.5 L848.4,343.3 L849.9,344.2 L851.4,345.0 L852.9,345.9 L854.4,346.7 L855.9,347.6 L857.4,348.4 L858.9,349.2 L860.4,350.1 L861.9,350.9 L863.4,351.7 L864.9,352.5 L866.4,353.4 L867.9,354.2 L869.4,355.0 L870.9,355.8 L872.4,356.6 L873.9,357.4 L875.4,358.2 L876.9,359.0 L878.4,359.8 L879.9,360.6 L881.4,361.4 L882.9,362.2 L884.4,363.0 L885.9,363.8 L887.4,364.6 L888.9,365.4 L890.4,366.2 L891.9,367.0 L893.4,367.7 L894.9,368.5 L896.4,369.3 L897.9,370.0 L899.4,370.8 L900.9,371.6 L902.4,372.3 L903.9,373.1 L905.4,373.8 L906.9,374.5 L908.4,375.3 L909.9,376.0 L911.4,376.7 L912.9,377.4 L914.4,378.1 L915.9,378.8 L917.4,379.5 L918.9,380.2 L920.4,380.9 L921.9,381.6 L923.4,382.2 L924.9,382.9 L926.4,383.5 L927.9,384.2 L929.4,384.8 L930.9,385.4 L932.4,386.0 L933.9,386.6 L935.4,387.2 L936.9,387.8 L938.4,388.4 L939.9,389.0 L941.4,389.5 L942.9,390.1 L944.4,390.6 L945.9,391.1 L947.4,391.6 L948.9,392.1 L950.4,392.6 L951.9,393.1 L953.4,393.5 L954.9,394.0 L956.4,394.4 L957.9,394.9 L959.4,395.3 L960.9,395.7 L962.4,396.0 L963.9,396.4 L965.4,396.8 L966.9,397.1 L968.4,397.4 L969.9,397.7 L971.4,398.0 L972.9,398.3 L974.4,398.6 L975.9,398.8 L977.4,399.1 L978.9,399.3 L980.4,399.5 L981.9,399.7 L983.4,399.8 L984.9,400.0 L986.4,400.0 L987.9,400.0 L989.4,400.0 L990.9,400.0 L992.4,400.0 L993.9,400.0 L995.4,400.0 L996.9,400.0 L998.4,400.0 L999.9,400.0 L1001.4,400.0 L1002.9,400.0 L1004.4,400.0 L1005.9,400.0 L1007.4,400.0 L1008.9,400.0 L1010.4,400.0 L1011.9,400.0 L1013.4,400.0 L1014.9,400.0 L1016.4,400.0 L1017.9,400.0 L1018.0,400.0" fill="none" stroke="#0000ff" stroke-width="2.6" stroke-linejoin="round" />
<path d="M572.4,398.8 L573.9,398.8 L575.4,398.8 L576.9,398.8 L578.4,398.8 L579.9,398.8 L581.4,398.8 L582.9,398.8 L584.4,398.8 L585.9,398.7 L587.4,398.6 L588.9,398.5 L590.4,398.3 L591.9,398.1 L593.4,397.9 L594.9,397.7 L596.4,397.4 L597.9,397.1 L599.4,396.8 L600.9,396.5 L602.4,396.1 L603.9,395.7 L605.4,395.3 L606.9,394.9 L608.4,394.4 L609.9,394.0 L611.4,393.5 L612.9,392.9 L614.4,392.4 L615.9,391.8 L617.4,391.3 L618.9,390.7 L620.4,390.0 L621.9,389.4 L623.4,388.7 L624.9,388.0 L626.4,387.3 L627.9,386.6 L629.4,385.9 L630.9,385.2 L632.4,384.4 L633.9,383.6 L635.4,382.8 L636.9,382.0 L638.4,381.2 L639.9,380.3 L641.4,379.5 L642.9,378.6 L644.4,377.7 L645.9,376.8 L647.4,375.9 L648.9,375.0 L650.4,374.1 L651.9,373.1 L653.4,372.2 L654.9,371.2 L656.4,370.2 L657.9,369.2 L659.4,368.3 L660.9,367.3 L662.4,366.2 L663.9,365.2 L665.4,364.2 L666.9,363.2 L668.4,362.1 L669.9,361.1 L671.4,360.0 L672.9,359.0 L674.4,357.9 L675.9,356.8 L677.4,355.8 L678.9,354.7 L680.4,353.6 L681.9,352.5 L683.4,351.4 L684.9,350.4 L686.4,349.3 L687.9,348.2 L689.4,347.1 L690.9,346.0 L692.4,344.9 L693.9,343.8 L695.4,342.7 L696.9,341.6 L698.4,340.5 L699.9,339.5 L701.4,338.4 L702.9,337.3 L704.4,336.3 L705.9,335.2 L707.4,334.2 L708.9,333.2 L710.4,332.2 L711.9,331.2 L713.4,330.2 L714.9,329.2 L716.4,328.3 L717.9,327.3 L719.4,326.4 L720.9,325.5 L722.4,324.6 L723.9,323.7 L725.4,322.9 L726.9,322.0 L728.4,321.1 L729.9,320.3 L731.4,319.5 L732.9,318.7 L734.4,317.9 L735.9,317.1 L737.4,316.3 L738.9,315.5 L740.4,314.8 L741.9,314.0 L743.4,313.3 L744.9,312.6 L746.4,311.8 L747.9,311.1 L749.4,310.5 L750.9,309.8 L752.4,309.1 L753.9,308.5 L755.4,307.8 L756.9,307.2 L758.4,306.6 L759.9,306.0 L761.4,305.4 L762.9,304.8 L764.4,304.3 L765.9,303.7 L767.4,303.2 L768.9,302.7 L770.4,302.2 L771.9,301.7 L773.4,301.2 L774.9,300.8 L776.4,300.3 L777.9,299.9 L779.4,299.5 L780.9,299.1 L782.4,298.7 L783.9,298.3 L785.4,298.0 L786.9,297.7 L788.4,297.4 L789.9,297.1 L791.4,296.8 L792.9,296.5 L794.4,296.3 L795.9,296.1 L797.4,295.9 L798.9,295.7 L800.4,295.5 L801.9,295.4 L803.4,295.2 L804.9,295.1 L806.4,295.0 L807.9,295.0 L809.4,294.9 L810.9,294.9 L812.4,294.9 L813.9,294.9 L815.4,294.9 L816.9,295.0 L818.4,295.0 L819.9,295.1 L821.4,295.2 L822.9,295.4 L824.4,295.5 L825.9,295.7 L827.4,295.9 L828.9,296.2 L830.4,296.4 L831.9,296.7 L833.4,297.0 L834.9,297.3 L836.4,297.7 L837.9,298.0 L839.4,298.4 L840.9,298.8 L842.4,299.3 L843.9,299.8 L845.4,300.3 L846.9,300.8 L848.4,301.3 L849.9,301.9 L851.4,302.5 L852.9,303.1 L854.4,303.8 L855.9,304.4 L857.4,305.1 L858.9,305.9 L860.4,306.6 L861.9,307.4 L863.4,308.2 L864.9,309.1 L866.4,310.0 L867.9,310.9 L869.4,311.8 L870.9,312.7 L872.4,313.7 L873.9,314.7 L875.4,315.8 L876.9,316.9 L878.4,318.0 L879.9,319.1 L881.4,320.3 L882.9,321.5 L884.4,322.7 L885.9,324.0 L887.4,325.2 L888.9,326.6 L890.4,327.9 L891.9,329.3 L893.4,330.7 L894.9,332.1 L896.4,333.6 L897.9,335.0 L899.4,336.5 L900.9,338.0 L902.4,339.5 L903.9,341.0 L905.4,342.6 L906.9,344.1 L908.4,345.6 L909.9,347.1 L911.4,348.7 L912.9,350.2 L914.4,351.7 L915.9,353.2 L917.4,354.7 L918.9,356.2 L920.4,357.6 L921.9,359.1 L923.4,360.5 L924.9,361.9 L926.4,363.3 L927.9,364.6 L929.4,366.0 L930.9,367.3 L932.4,368.6 L933.9,369.9 L935.4,371.2 L936.9,372.4 L938.4,373.6 L939.9,374.8 L941.4,375.9 L942.9,377.1 L944.4,378.2 L945.9,379.2 L947.4,380.3 L948.9,381.3 L950.4,382.3 L951.9,383.2 L953.4,384.1 L954.9,385.0 L956.4,385.8 L957.9,386.7 L959.4,387.4 L960.9,388.2 L962.4,388.9 L963.9,389.6 L965.4,390.3 L966.9,391.0 L968.4,391.6 L969.9,392.2 L971.4,392.7 L972.9,393.3 L974.4,393.8 L975.9,394.3 L977.4,394.7 L978.9,395.2 L980.4,395.6 L981.9,396.0 L983.4,396.3 L984.9,396.7 L986.4,397.0 L987.9,397.3 L989.4,397.5 L990.9,397.8 L992.4,398.0 L993.9,398.2 L995.4,398.4 L996.9,398.6 L998.4,398.7 L999.9,398.8 L1001.4,398.9 L1002.9,399.0 L1004.4,399.1 L1005.9,399.1 L1007.4,399.1 L1008.9,399.1 L1010.4,399.1 L1011.9,399.1 L1013.4,399.1 L1014.9,399.1 L1016.4,399.1 L1017.9,399.1 L1018.0,399.1" fill="none" stroke="#ff0000" stroke-width="2.6" stroke-linejoin="round" />
</g>
<g>
<path d="M96.0,212.4 L97.5,212.4 L99.0,212.3 L100.5,212.2 L102.0,212.0 L103.5,211.8 L105.0,211.5 L106.5,211.1 L108.0,210.8 L109.5,210.3 L111.0,209.9 L112.5,209.3 L114.0,208.8 L115.5,208.2 L117.0,207.6 L118.5,206.9 L120.0,206.2 L121.5,205.4 L123.0,204.7 L124.5,203.8 L126.0,203.0 L127.5,202.1 L129.0,201.2 L130.5,200.3 L132.0,199.3 L133.5,198.4 L135.0,197.3 L136.5,196.3 L138.0,195.3 L139.5,194.2 L141.0,193.1 L142.5,192.0 L144.0,190.9 L145.5,189.7 L147.0,188.6 L148.5,187.4 L150.0,186.2 L151.5,185.0 L153.0,183.8 L154.5,182.6 L156.0,181.4 L157.5,180.1 L159.0,178.9 L160.5,177.6 L162.0,176.4 L163.5,175.1 L165.0,173.8 L166.5,172.5 L168.0,171.2 L169.5,169.9 L171.0,168.6 L172.5,167.3 L174.0,166.0 L175.5,164.7 L177.0,163.4 L178.5,162.0 L180.0,160.7 L181.5,159.4 L183.0,158.1 L184.5,156.7 L186.0,155.4 L187.5,154.1 L189.0,152.8 L190.5,151.4 L192.0,150.1 L193.5,148.8 L195.0,147.5 L196.5,146.1 L198.0,144.8 L199.5,143.5 L201.0,142.2 L202.5,140.9 L204.0,139.6 L205.5,138.4 L207.0,137.1 L208.5,135.8 L210.0,134.6 L211.5,133.3 L213.0,132.1 L214.5,130.9 L216.0,129.6 L217.5,128.4 L219.0,127.3 L220.5,126.1 L222.0,124.9 L223.5,123.8 L225.0,122.7 L226.5,121.6 L228.0,120.5 L229.5,119.4 L231.0,118.4 L232.5,117.4 L234.0,116.4 L235.5,115.4 L237.0,114.4 L238.5,113.5 L240.0,112.6 L241.5,111.7 L243.0,110.9 L244.5,110.0 L246.0,109.2 L247.5,108.5 L249.0,107.7 L250.5,107.0 L252.0,106.3 L253.5,105.7 L255.0,105.1 L256.5,104.5 L258.0,103.9 L259.5,103.4 L261.0,102.9 L262.5,102.5 L264.0,102.1 L265.5,101.7 L267.0,101.4 L268.5,101.1 L270.0,100.9 L271.5,100.6 L273.0,100.5 L274.5,100.3 L276.0,100.2 L277.5,100.2 L279.0,100.2 L280.5,100.2 L282.0,100.2 L283.5,100.3 L285.0,100.5 L286.5,100.7 L288.0,100.9 L289.5,101.2 L291.0,101.5 L292.5,101.8 L294.0,102.2 L295.5,102.7 L297.0,103.1 L298.5,103.7 L300.0,104.2 L301.5,104.8 L303.0,105.5 L304.5,106.2 L306.0,106.9 L307.5,107.7 L309.0,108.5 L310.5,109.4 L312.0,110.3 L313.5,111.3 L315.0,112.3 L316.5,113.4 L318.0,114.5 L319.5,115.6 L321.0,116.8 L322.5,118.0 L324.0,119.3 L325.5,120.6 L327.0,121.9 L328.5,123.3 L330.0,124.7 L331.5,126.2 L333.0,127.6 L334.5,129.1 L336.0,130.6 L337.5,132.2 L339.0,133.7 L340.5,135.3 L342.0,136.9 L343.5,138.5 L345.0,140.1 L346.5,141.7 L348.0,143.4 L349.5,145.0 L351.0,146.7 L352.5,148.4 L354.0,150.0 L355.5,151.7 L357.0,153.4 L358.5,155.0 L360.0,156.7 L361.5,158.3 L363.0,160.0 L364.5,161.6 L366.0,163.3 L367.5,164.9 L369.0,166.5 L370.5,168.1 L372.0,169.6 L373.5,171.2 L375.0,172.7 L376.5,174.2 L378.0,175.7 L379.5,177.1 L381.0,178.6 L382.5,179.9 L384.0,181.3 L385.5,182.6 L387.0,183.9 L388.5,185.2 L390.0,186.4 L391.5,187.6 L393.0,188.8 L394.5,190.0 L396.0,191.1 L397.5,192.2 L399.0,193.2 L400.5,194.3 L402.0,195.3 L403.5,196.2 L405.0,197.2 L406.5,198.1 L408.0,199.0 L409.5,199.8 L411.0,200.7 L412.5,201.5 L414.0,202.2 L415.5,203.0 L417.0,203.7 L418.5,204.4 L420.0,205.0 L421.5,205.6 L423.0,206.2 L424.5,206.8 L426.0,207.3 L427.5,207.9 L429.0,208.4 L430.5,208.8 L432.0,209.2 L433.5,209.7 L435.0,210.0 L436.5,210.4 L438.0,210.7 L439.5,211.0 L441.0,211.3 L442.5,211.5 L444.0,211.8 L445.5,212.0 L447.0,212.2 L448.5,212.3 L450.0,212.4 L451.5,212.4 L453.0,212.4 L454.5,212.4 L456.0,212.4 L457.5,212.4 L459.0,212.4 L460.5,212.4 L462.0,212.4 L463.5,212.4 L465.0,212.4 L466.5,212.4 L468.0,212.4 L469.5,212.4 L471.0,212.4 L472.5,212.4 L474.0,212.4 L475.5,212.4 L477.0,212.4 L478.5,212.4 L480.0,212.4 L481.5,212.4 L483.0,212.4 L484.5,212.4 L486.0,212.4 L487.5,212.4 L489.0,212.4 L490.5,212.4 L492.0,212.4 L493.5,212.4 L495.0,212.4 L496.5,212.4 L498.0,212.4 L499.5,212.4 L501.0,212.4 L502.5,212.4 L504.0,212.4 L505.5,212.4 L507.0,212.4 L508.5,212.4 L510.0,212.4 L511.5,212.4 L513.0,212.4 L514.5,212.4 L516.0,212.4 L517.5,212.4 L519.0,212.4 L520.5,212.4 L522.0,212.4 L523.5,212.4 L525.0,212.4 L526.5,212.4 L528.0,212.4 L529.5,212.4 L531.0,212.4 L532.5,212.4 L534.0,212.4 L535.5,212.4 L537.0,212.4 L538.5,212.4 L540.0,212.4 L541.5,212.4 L542.0,212.4" fill="none" stroke="#0000ff" stroke-width="1.4" stroke-linejoin="round" />
<path d="M96.0,212.0 L97.5,212.0 L99.0,212.0 L100.5,212.0 L102.0,212.0 L103.5,212.0 L105.0,211.8 L106.5,211.6 L108.0,211.4 L109.5,211.1 L111.0,210.8 L112.5,210.5 L114.0,210.2 L115.5,209.9 L117.0,209.5 L118.5,209.1 L120.0,208.7 L121.5,208.3 L123.0,207.8 L124.5,207.3 L126.0,206.8 L127.5,206.3 L129.0,205.7 L130.5,205.2 L132.0,204.6 L133.5,203.9 L135.0,203.3 L136.5,202.7 L138.0,202.0 L139.5,201.3 L141.0,200.6 L142.5,199.8 L144.0,199.1 L145.5,198.3 L147.0,197.5 L148.5,196.7 L150.0,195.9 L151.5,195.1 L153.0,194.2 L154.5,193.3 L156.0,192.4 L157.5,191.5 L159.0,190.6 L160.5,189.6 L162.0,188.7 L163.5,187.7 L165.0,186.7 L166.5,185.7 L168.0,184.7 L169.5,183.7 L171.0,182.6 L172.5,181.6 L174.0,180.5 L175.5,179.4 L177.0,178.3 L178.5,177.2 L180.0,176.1 L181.5,174.9 L183.0,173.8 L184.5,172.6 L186.0,171.4 L187.5,170.2 L189.0,169.1 L190.5,167.8 L192.0,166.6 L193.5,165.4 L195.0,164.2 L196.5,162.9 L198.0,161.7 L199.5,160.4 L201.0,159.1 L202.5,157.9 L204.0,156.6 L205.5,155.3 L207.0,154.0 L208.5,152.6 L210.0,151.3 L211.5,150.0 L213.0,148.7 L214.5,147.3 L216.0,146.0 L217.5,144.7 L219.0,143.3 L220.5,142.0 L222.0,140.6 L223.5,139.3 L225.0,137.9 L226.5,136.6 L228.0,135.2 L229.5,133.9 L231.0,132.5 L232.5,131.2 L234.0,129.9 L235.5,128.6 L237.0,127.3 L238.5,126.0 L240.0,124.7 L241.5,123.4 L243.0,122.1 L244.5,120.9 L246.0,119.6 L247.5,118.4 L249.0,117.2 L250.5,116.0 L252.0,114.8 L253.5,113.7 L255.0,112.5 L256.5,111.4 L258.0,110.3 L259.5,109.2 L261.0,108.1 L262.5,107.1 L264.0,106.1 L265.5,105.1 L267.0,104.1 L268.5,103.2 L270.0,102.3 L271.5,101.4 L273.0,100.5 L274.5,99.7 L276.0,98.9 L277.5,98.2 L279.0,97.4 L280.5,96.8 L282.0,96.1 L283.5,95.5 L285.0,95.0 L286.5,94.5 L288.0,94.0 L289.5,93.6 L291.0,93.3 L292.5,93.0 L294.0,92.7 L295.5,92.5 L297.0,92.4 L298.5,92.3 L300.0,92.3 L301.5,92.3 L303.0,92.4 L304.5,92.6 L306.0,92.9 L307.5,93.2 L309.0,93.6 L310.5,94.0 L312.0,94.5 L313.5,95.1 L315.0,95.8 L316.5,96.6 L318.0,97.4 L319.5,98.2 L321.0,99.2 L322.5,100.2 L324.0,101.3 L325.5,102.4 L327.0,103.6 L328.5,104.8 L330.0,106.1 L331.5,107.5 L333.0,108.9 L334.5,110.3 L336.0,111.8 L337.5,113.4 L339.0,114.9 L340.5,116.6 L342.0,118.2 L343.5,119.9 L345.0,121.7 L346.5,123.5 L348.0,125.3 L349.5,127.1 L351.0,129.0 L352.5,130.9 L354.0,132.8 L355.5,134.7 L357.0,136.6 L358.5,138.6 L360.0,140.6 L361.5,142.5 L363.0,144.5 L364.5,146.4 L366.0,148.4 L367.5,150.3 L369.0,152.2 L370.5,154.2 L372.0,156.0 L373.5,157.9 L375.0,159.7 L376.5,161.6 L378.0,163.3 L379.5,165.1 L381.0,166.8 L382.5,168.5 L384.0,170.2 L385.5,171.8 L387.0,173.4 L388.5,175.0 L390.0,176.5 L391.5,178.0 L393.0,179.5 L394.5,181.0 L396.0,182.4 L397.5,183.8 L399.0,185.1 L400.5,186.4 L402.0,187.7 L403.5,189.0 L405.0,190.2 L406.5,191.4 L408.0,192.5 L409.5,193.7 L411.0,194.7 L412.5,195.8 L414.0,196.8 L415.5,197.8 L417.0,198.7 L418.5,199.6 L420.0,200.5 L421.5,201.4 L423.0,202.2 L424.5,202.9 L426.0,203.7 L427.5,204.3 L429.0,205.0 L430.5,205.6 L432.0,206.2 L433.5,206.7 L435.0,207.2 L436.5,207.7 L438.0,208.2 L439.5,208.6 L441.0,209.0 L442.5,209.3 L444.0,209.6 L445.5,209.9 L447.0,210.2 L448.5,210.5 L450.0,210.7 L451.5,210.9 L453.0,211.1 L454.5,211.2 L456.0,211.4 L457.5,211.5 L459.0,211.6 L460.5,211.7 L462.0,211.8 L463.5,211.8 L465.0,211.9 L466.5,211.9 L468.0,211.9 L469.5,211.9 L471.0,211.9 L472.5,211.9 L474.0,211.9 L475.5,211.9 L477.0,211.9 L478.5,211.9 L480.0,211.9 L481.5,211.9 L483.0,211.9 L484.5,211.9 L486.0,211.9 L487.5,211.9 L489.0,211.9 L490.5,211.9 L492.0,211.9 L493.5,211.9 L495.0,211.9 L496.5,211.9 L498.0,211.9 L499.5,211.9 L501.0,211.9 L502.5,211.9 L504.0,211.9 L505.5,211.9 L507.0,211.9 L508.5,211.9 L510.0,211.9 L511.5,211.9 L513.0,211.9 L514.5,211.9 L516.0,211.9 L517.5,211.9 L519.0,211.9 L520.5,211.9 L522.0,211.9 L523.5,211.9 L525.0,211.9 L526.5,211.9 L528.0,211.9 L529.5,211.9 L531.0,211.9 L532.5,211.9 L534.0,211.9 L535.5,211.9 L537.0,211.9 L538.5,211.9 L540.0,211.9 L541.5,211.9 L542.0,211.9" fill="none" stroke="#ff0000" stroke-width="1.4" stroke-linejoin="round" />
<path d="M570.0,212.0 L571.5,212.0 L573.0,212.0 L574.5,212.0 L576.0,212.0 L577.5,211.8 L579.0,211.4 L580.5,211.0 L582.0,210.6 L583.5,210.1 L585.0,209.6 L586.5,209.1 L588.0,208.5 L589.5,207.9 L591.0,207.3 L592.5,206.6 L594.0,205.9 L595.5,205.1 L597.0,204.4 L598.5,203.6 L600.0,202.7 L601.5,201.9 L603.0,201.0 L604.5,200.1 L606.0,199.2 L607.5,198.2 L609.0,197.2 L610.5,196.2 L612.0,195.2 L613.5,194.2 L615.0,193.1 L616.5,192.1 L618.0,191.0 L619.5,189.9 L621.0,188.7 L622.5,187.6 L624.0,186.5 L625.5,185.3 L627.0,184.1 L628.5,182.9 L630.0,181.8 L631.5,180.6 L633.0,179.4 L634.5,178.1 L636.0,176.9 L637.5,175.7 L639.0,174.5 L640.5,173.3 L642.0,172.0 L643.5,170.8 L645.0,169.6 L646.5,168.4 L648.0,167.1 L649.5,165.9 L651.0,164.7 L652.5,163.4 L654.0,162.2 L655.5,161.0 L657.0,159.7 L658.5,158.5 L660.0,157.2 L661.5,156.0 L663.0,154.8 L664.5,153.5 L666.0,152.3 L667.5,151.0 L669.0,149.8 L670.5,148.5 L672.0,147.3 L673.5,146.0 L675.0,144.8 L676.5,143.5 L678.0,142.3 L679.5,141.0 L681.0,139.8 L682.5,138.5 L684.0,137.2 L685.5,136.0 L687.0,134.7 L688.5,133.5 L690.0,132.2 L691.5,130.9 L693.0,129.7 L694.5,128.4 L696.0,127.2 L697.5,125.9 L699.0,124.7 L700.5,123.5 L702.0,122.2 L703.5,121.0 L705.0,119.8 L706.5,118.6 L708.0,117.4 L709.5,116.3 L711.0,115.1 L712.5,114.0 L714.0,112.9 L715.5,111.8 L717.0,110.7 L718.5,109.7 L720.0,108.6 L721.5,107.6 L723.0,106.6 L724.5,105.7 L726.0,104.8 L727.5,103.9 L729.0,103.0 L730.5,102.1 L732.0,101.3 L733.5,100.5 L735.0,99.8 L736.5,99.1 L738.0,98.4 L739.5,97.8 L741.0,97.2 L742.5,96.6 L744.0,96.1 L745.5,95.6 L747.0,95.1 L748.5,94.7 L750.0,94.4 L751.5,94.1 L753.0,93.8 L754.5,93.5 L756.0,93.3 L757.5,93.2 L759.0,93.1 L760.5,93.0 L762.0,93.0 L763.5,93.0 L765.0,93.0 L766.5,93.1 L768.0,93.3 L769.5,93.5 L771.0,93.7 L772.5,94.0 L774.0,94.3 L775.5,94.7 L777.0,95.1 L778.5,95.5 L780.0,96.1 L781.5,96.6 L783.0,97.2 L784.5,97.9 L786.0,98.6 L787.5,99.3 L789.0,100.1 L790.5,101.0 L792.0,101.8 L793.5,102.8 L795.0,103.8 L796.5,104.8 L798.0,105.9 L799.5,107.1 L801.0,108.3 L802.5,109.5 L804.0,110.8 L805.5,112.1 L807.0,113.5 L808.5,114.9 L810.0,116.3 L811.5,117.8 L813.0,119.3 L814.5,120.8 L816.0,122.4 L817.5,124.0 L819.0,125.6 L820.5,127.3 L822.0,128.9 L823.5,130.6 L825.0,132.3 L826.5,134.0 L828.0,135.8 L829.5,137.5 L831.0,139.3 L832.5,141.0 L834.0,142.8 L835.5,144.6 L837.0,146.3 L838.5,148.1 L840.0,149.9 L841.5,151.6 L843.0,153.4 L844.5,155.1 L846.0,156.9 L847.5,158.6 L849.0,160.3 L850.5,162.0 L852.0,163.7 L853.5,165.3 L855.0,167.0 L856.5,168.6 L858.0,170.2 L859.5,171.8 L861.0,173.3 L862.5,174.9 L864.0,176.4 L865.5,177.9 L867.0,179.3 L868.5,180.8 L870.0,182.2 L871.5,183.6 L873.0,184.9 L874.5,186.3 L876.0,187.6 L877.5,188.9 L879.0,190.1 L880.5,191.3 L882.0,192.5 L883.5,193.6 L885.0,194.8 L886.5,195.8 L888.0,196.9 L889.5,197.9 L891.0,198.9 L892.5,199.8 L894.0,200.7 L895.5,201.6 L897.0,202.4 L898.5,203.2 L900.0,204.0 L901.5,204.7 L903.0,205.4 L904.5,206.0 L906.0,206.6 L907.5,207.2 L909.0,207.7 L910.5,208.2 L912.0,208.6 L913.5,209.1 L915.0,209.4 L916.5,209.8 L918.0,210.1 L919.5,210.5 L921.0,210.7 L922.5,211.0 L924.0,211.2 L925.5,211.4 L927.0,211.6 L928.5,211.8 L930.0,211.9 L931.5,212.0 L933.0,212.0 L934.5,212.0 L936.0,212.0 L937.5,212.0 L939.0,212.0 L940.5,212.0 L942.0,212.0 L943.5,212.0 L945.0,212.0 L946.5,212.0 L948.0,212.0 L949.5,212.0 L951.0,212.0 L952.5,212.0 L954.0,212.0 L955.5,212.0 L957.0,212.0 L958.5,212.0 L960.0,212.0 L961.5,212.0 L963.0,212.0 L964.5,212.0 L966.0,212.0 L967.5,212.0 L969.0,212.0 L970.5,212.0 L972.0,212.0 L973.5,212.0 L975.0,212.0 L976.5,212.0 L978.0,212.0 L979.5,212.0 L981.0,212.0 L982.5,212.0 L984.0,212.0 L985.5,212.0 L987.0,212.0 L988.5,212.0 L990.0,212.0 L991.5,212.0 L993.0,212.0 L994.5,212.0 L996.0,212.0 L997.5,212.0 L999.0,212.0 L1000.5,212.0 L1002.0,212.0 L1003.5,212.0 L1005.0,212.0 L1006.5,212.0 L1008.0,212.0 L1009.5,212.0 L1011.0,212.0 L1012.5,212.0 L1014.0,212.0 L1015.0,212.0" fill="none" stroke="#0000ff" stroke-width="1.4" stroke-linejoin="round" />
<path d="M570.0,212.0 L571.5,212.0 L573.0,212.0 L574.5,212.0 L576.0,211.9 L577.5,211.8 L579.0,211.6 L580.5,211.4 L582.0,211.2 L583.5,210.9 L585.0,210.6 L586.5,210.3 L588.0,209.9 L589.5,209.5 L591.0,209.1 L592.5,208.6 L594.0,208.1 L595.5,207.6 L597.0,207.0 L598.5,206.5 L600.0,205.9 L601.5,205.2 L603.0,204.6 L604.5,203.9 L606.0,203.2 L607.5,202.5 L609.0,201.7 L610.5,201.0 L612.0,200.2 L613.5,199.4 L615.0,198.5 L616.5,197.7 L618.0,196.8 L619.5,195.9 L621.0,195.0 L622.5,194.1 L624.0,193.2 L625.5,192.3 L627.0,191.3 L628.5,190.3 L630.0,189.4 L631.5,188.4 L633.0,187.4 L634.5,186.4 L636.0,185.4 L637.5,184.3 L639.0,183.3 L640.5,182.3 L642.0,181.2 L643.5,180.1 L645.0,179.1 L646.5,178.0 L648.0,176.9 L649.5,175.8 L651.0,174.7 L652.5,173.6 L654.0,172.5 L655.5,171.4 L657.0,170.3 L658.5,169.2 L660.0,168.0 L661.5,166.9 L663.0,165.8 L664.5,164.6 L666.0,163.5 L667.5,162.3 L669.0,161.1 L670.5,160.0 L672.0,158.8 L673.5,157.6 L675.0,156.4 L676.5,155.2 L678.0,154.1 L679.5,152.9 L681.0,151.7 L682.5,150.5 L684.0,149.3 L685.5,148.1 L687.0,146.9 L688.5,145.7 L690.0,144.5 L691.5,143.3 L693.0,142.0 L694.5,140.8 L696.0,139.6 L697.5,138.5 L699.0,137.3 L700.5,136.1 L702.0,134.9 L703.5,133.7 L705.0,132.5 L706.5,131.4 L708.0,130.2 L709.5,129.0 L711.0,127.9 L712.5,126.8 L714.0,125.6 L715.5,124.5 L717.0,123.4 L718.5,122.3 L720.0,121.2 L721.5,120.1 L723.0,119.0 L724.5,118.0 L726.0,116.9 L727.5,115.9 L729.0,114.9 L730.5,113.9 L732.0,112.9 L733.5,111.9 L735.0,111.0 L736.5,110.0 L738.0,109.1 L739.5,108.2 L741.0,107.3 L742.5,106.5 L744.0,105.6 L745.5,104.8 L747.0,104.0 L748.5,103.2 L750.0,102.5 L751.5,101.8 L753.0,101.1 L754.5,100.4 L756.0,99.8 L757.5,99.2 L759.0,98.6 L760.5,98.1 L762.0,97.6 L763.5,97.1 L765.0,96.7 L766.5,96.3 L768.0,95.9 L769.5,95.6 L771.0,95.3 L772.5,95.1 L774.0,94.9 L775.5,94.7 L777.0,94.6 L778.5,94.5 L780.0,94.5 L781.5,94.5 L783.0,94.5 L784.5,94.6 L786.0,94.8 L787.5,95.0 L789.0,95.2 L790.5,95.5 L792.0,95.9 L793.5,96.3 L795.0,96.8 L796.5,97.3 L798.0,97.9 L799.5,98.5 L801.0,99.2 L802.5,99.9 L804.0,100.7 L805.5,101.5 L807.0,102.4 L808.5,103.3 L810.0,104.3 L811.5,105.4 L813.0,106.4 L814.5,107.5 L816.0,108.7 L817.5,109.9 L819.0,111.1 L820.5,112.4 L822.0,113.7 L823.5,115.1 L825.0,116.5 L826.5,117.9 L828.0,119.4 L829.5,120.9 L831.0,122.4 L832.5,123.9 L834.0,125.5 L835.5,127.1 L837.0,128.7 L838.5,130.4 L840.0,132.0 L841.5,133.7 L843.0,135.5 L844.5,137.2 L846.0,139.0 L847.5,140.7 L849.0,142.5 L850.5,144.3 L852.0,146.1 L853.5,147.9 L855.0,149.8 L856.5,151.6 L858.0,153.5 L859.5,155.3 L861.0,157.2 L862.5,159.0 L864.0,160.8 L865.5,162.7 L867.0,164.5 L868.5,166.3 L870.0,168.1 L871.5,169.9 L873.0,171.7 L874.5,173.5 L876.0,175.2 L877.5,176.9 L879.0,178.6 L880.5,180.3 L882.0,181.9 L883.5,183.5 L885.0,185.1 L886.5,186.6 L888.0,188.1 L889.5,189.5 L891.0,191.0 L892.5,192.3 L894.0,193.7 L895.5,194.9 L897.0,196.2 L898.5,197.3 L900.0,198.4 L901.5,199.5 L903.0,200.5 L904.5,201.5 L906.0,202.4 L907.5,203.2 L909.0,204.0 L910.5,204.7 L912.0,205.4 L913.5,206.1 L915.0,206.7 L916.5,207.3 L918.0,207.8 L919.5,208.3 L921.0,208.7 L922.5,209.1 L924.0,209.5 L925.5,209.9 L927.0,210.2 L928.5,210.4 L930.0,210.7 L931.5,210.9 L933.0,211.1 L934.5,211.3 L936.0,211.4 L937.5,211.6 L939.0,211.7 L940.5,211.8 L942.0,211.8 L943.5,211.9 L945.0,211.9 L946.5,212.0 L948.0,212.0 L949.5,212.0 L951.0,212.0 L952.5,212.0 L954.0,212.0 L955.5,212.0 L957.0,212.0 L958.5,212.0 L960.0,212.0 L961.5,212.0 L963.0,212.0 L964.5,212.0 L966.0,212.0 L967.5,212.0 L969.0,212.0 L970.5,212.0 L972.0,212.0 L973.5,212.0 L975.0,212.0 L976.5,212.0 L978.0,212.0 L979.5,212.0 L981.0,212.0 L982.5,212.0 L984.0,212.0 L985.5,212.0 L987.0,212.0 L988.5,212.0 L990.0,212.0 L991.5,212.0 L993.0,212.0 L994.5,212.0 L996.0,212.0 L997.5,212.0 L999.0,212.0 L1000.5,212.0 L1002.0,212.0 L1003.5,212.0 L1005.0,212.0 L1006.5,212.0 L1008.0,212.0 L1009.5,212.0 L1011.0,212.0 L1012.5,212.0 L1014.0,212.0 L1015.0,212.0" fill="none" stroke="#ff0000" stroke-width="1.4" stroke-linejoin="round" />
<path d="M96.0,400.6 L97.5,400.6 L99.0,400.6 L100.5,400.6 L102.0,400.6 L103.5,400.4 L105.0,400.2 L106.5,399.9 L108.0,399.5 L109.5,399.1 L111.0,398.5 L112.5,397.9 L114.0,397.3 L115.5,396.5 L117.0,395.7 L118.5,394.8 L120.0,393.8 L121.5,392.8 L123.0,391.7 L124.5,390.6 L126.0,389.4 L127.5,388.1 L129.0,386.8 L130.5,385.4 L132.0,383.9 L133.5,382.4 L135.0,380.9 L136.5,379.3 L138.0,377.6 L139.5,375.9 L141.0,374.2 L142.5,372.4 L144.0,370.6 L145.5,368.7 L147.0,366.8 L148.5,364.8 L150.0,362.9 L151.5,360.8 L153.0,358.8 L154.5,356.7 L156.0,354.6 L157.5,352.4 L159.0,350.3 L160.5,348.1 L162.0,345.9 L163.5,343.7 L165.0,341.5 L166.5,339.3 L168.0,337.1 L169.5,334.9 L171.0,332.7 L172.5,330.5 L174.0,328.3 L175.5,326.1 L177.0,324.0 L178.5,321.8 L180.0,319.7 L181.5,317.7 L183.0,315.6 L184.5,313.6 L186.0,311.6 L187.5,309.7 L189.0,307.8 L190.5,305.9 L192.0,304.1 L193.5,302.4 L195.0,300.7 L196.5,299.0 L198.0,297.5 L199.5,296.0 L201.0,294.5 L202.5,293.1 L204.0,291.8 L205.5,290.6 L207.0,289.5 L208.5,288.4 L210.0,287.5 L211.5,286.6 L213.0,285.8 L214.5,285.1 L216.0,284.4 L217.5,283.9 L219.0,283.4 L220.5,283.0 L222.0,282.7 L223.5,282.5 L225.0,282.3 L226.5,282.2 L228.0,282.2 L229.5,282.2 L231.0,282.4 L232.5,282.6 L234.0,282.8 L235.5,283.2 L237.0,283.6 L238.5,284.1 L240.0,284.6 L241.5,285.3 L243.0,286.0 L244.5,286.7 L246.0,287.5 L247.5,288.4 L249.0,289.3 L250.5,290.3 L252.0,291.4 L253.5,292.5 L255.0,293.7 L256.5,295.0 L258.0,296.3 L259.5,297.6 L261.0,299.0 L262.5,300.5 L264.0,302.0 L265.5,303.6 L267.0,305.2 L268.5,306.9 L270.0,308.6 L271.5,310.3 L273.0,312.0 L274.5,313.8 L276.0,315.6 L277.5,317.5 L279.0,319.3 L280.5,321.2 L282.0,323.1 L283.5,325.0 L285.0,326.9 L286.5,328.7 L288.0,330.6 L289.5,332.5 L291.0,334.4 L292.5,336.3 L294.0,338.1 L295.5,340.0 L297.0,341.8 L298.5,343.6 L300.0,345.3 L301.5,347.1 L303.0,348.8 L304.5,350.4 L306.0,352.0 L307.5,353.6 L309.0,355.2 L310.5,356.7 L312.0,358.2 L313.5,359.6 L315.0,361.0 L316.5,362.4 L318.0,363.7 L319.5,365.1 L321.0,366.3 L322.5,367.6 L324.0,368.8 L325.5,370.0 L327.0,371.1 L328.5,372.2 L330.0,373.3 L331.5,374.4 L333.0,375.4 L334.5,376.4 L336.0,377.4 L337.5,378.4 L339.0,379.3 L340.5,380.2 L342.0,381.0 L343.5,381.9 L345.0,382.7 L346.5,383.5 L348.0,384.2 L349.5,385.0 L351.0,385.7 L352.5,386.4 L354.0,387.0 L355.5,387.7 L357.0,388.3 L358.5,388.9 L360.0,389.5 L361.5,390.0 L363.0,390.6 L364.5,391.1 L366.0,391.6 L367.5,392.0 L369.0,392.5 L370.5,392.9 L372.0,393.3 L373.5,393.7 L375.0,394.1 L376.5,394.5 L378.0,394.8 L379.5,395.2 L381.0,395.5 L382.5,395.8 L384.0,396.1 L385.5,396.3 L387.0,396.6 L388.5,396.8 L390.0,397.1 L391.5,397.3 L393.0,397.5 L394.5,397.7 L396.0,397.8 L397.5,398.0 L399.0,398.2 L400.5,398.3 L402.0,398.5 L403.5,398.6 L405.0,398.7 L406.5,398.8 L408.0,398.9 L409.5,399.0 L411.0,399.1 L412.5,399.2 L414.0,399.2 L415.5,399.3 L417.0,399.3 L418.5,399.4 L420.0,399.4 L421.5,399.5 L423.0,399.5 L424.5,399.6 L426.0,399.6 L427.5,399.6 L429.0,399.6 L430.5,399.7 L432.0,399.7 L433.5,399.7 L435.0,399.7 L436.5,399.8 L438.0,399.8 L439.5,399.8 L441.0,399.8 L442.5,399.8 L444.0,399.9 L445.5,399.9 L447.0,399.9 L448.5,399.9 L450.0,399.9 L451.5,400.0 L453.0,400.0 L454.5,400.0 L456.0,400.0 L457.5,400.0 L459.0,400.1 L460.5,400.1 L462.0,400.1 L463.5,400.1 L465.0,400.1 L466.5,400.2 L468.0,400.2 L469.5,400.2 L471.0,400.2 L472.5,400.2 L474.0,400.3 L475.5,400.3 L477.0,400.3 L478.5,400.3 L480.0,400.3 L481.5,400.4 L483.0,400.4 L484.5,400.4 L486.0,400.4 L487.5,400.4 L489.0,400.4 L490.5,400.5 L492.0,400.5 L493.5,400.5 L495.0,400.5 L496.5,400.5 L498.0,400.5 L499.5,400.5 L501.0,400.5 L502.5,400.5 L504.0,400.5 L505.5,400.5 L507.0,400.6 L508.5,400.6 L510.0,400.6 L511.5,400.6 L513.0,400.6 L514.5,400.6 L516.0,400.6 L517.5,400.6 L519.0,400.6 L520.5,400.6 L522.0,400.6 L523.5,400.6 L525.0,400.6 L526.5,400.6 L528.0,400.6 L529.5,400.6 L531.0,400.6 L532.5,400.6 L534.0,400.6 L535.5,400.6 L537.0,400.6 L538.5,400.6 L540.0,400.6 L541.5,400.6 L542.0,400.6" fill="none" stroke="#0000ff" stroke-width="1.4" stroke-linejoin="round" />
<path d="M96.0,400.7 L97.5,400.7 L99.0,400.7 L100.5,400.7 L102.0,400.7 L103.5,400.7 L105.0,400.7 L106.5,400.7 L108.0,400.7 L109.5,400.7 L111.0,400.7 L112.5,400.7 L114.0,400.7 L115.5,400.6 L117.0,400.6 L118.5,400.5 L120.0,400.4 L121.5,400.3 L123.0,400.2 L124.5,400.1 L126.0,399.9 L127.5,399.8 L129.0,399.6 L130.5,399.4 L132.0,399.3 L133.5,399.1 L135.0,398.8 L136.5,398.6 L138.0,398.4 L139.5,398.1 L141.0,397.9 L142.5,397.6 L144.0,397.3 L145.5,397.0 L147.0,396.7 L148.5,396.4 L150.0,396.0 L151.5,395.7 L153.0,395.3 L154.5,395.0 L156.0,394.6 L157.5,394.2 L159.0,393.8 L160.5,393.4 L162.0,393.0 L163.5,392.6 L165.0,392.2 L166.5,391.7 L168.0,391.3 L169.5,390.8 L171.0,390.4 L172.5,389.9 L174.0,389.4 L175.5,388.9 L177.0,388.4 L178.5,387.9 L180.0,387.4 L181.5,386.9 L183.0,386.4 L184.5,385.8 L186.0,385.3 L187.5,384.8 L189.0,384.2 L190.5,383.7 L192.0,383.1 L193.5,382.5 L195.0,382.0 L196.5,381.4 L198.0,380.8 L199.5,380.2 L201.0,379.6 L202.5,379.0 L204.0,378.4 L205.5,377.8 L207.0,377.2 L208.5,376.6 L210.0,376.0 L211.5,375.4 L213.0,374.8 L214.5,374.1 L216.0,373.5 L217.5,372.9 L219.0,372.2 L220.5,371.6 L222.0,371.0 L223.5,370.3 L225.0,369.7 L226.5,369.0 L228.0,368.4 L229.5,367.7 L231.0,367.1 L232.5,366.5 L234.0,365.8 L235.5,365.2 L237.0,364.5 L238.5,363.9 L240.0,363.2 L241.5,362.6 L243.0,361.9 L244.5,361.3 L246.0,360.6 L247.5,360.0 L249.0,359.3 L250.5,358.7 L252.0,358.0 L253.5,357.4 L255.0,356.7 L256.5,356.1 L258.0,355.4 L259.5,354.8 L261.0,354.1 L262.5,353.5 L264.0,352.8 L265.5,352.2 L267.0,351.5 L268.5,350.8 L270.0,350.2 L271.5,349.5 L273.0,348.8 L274.5,348.2 L276.0,347.5 L277.5,346.8 L279.0,346.1 L280.5,345.4 L282.0,344.8 L283.5,344.1 L285.0,343.4 L286.5,342.7 L288.0,342.0 L289.5,341.3 L291.0,340.5 L292.5,339.8 L294.0,339.1 L295.5,338.4 L297.0,337.6 L298.5,336.9 L300.0,336.1 L301.5,335.4 L303.0,334.6 L304.5,333.9 L306.0,333.1 L307.5,332.3 L309.0,331.5 L310.5,330.8 L312.0,330.0 L313.5,329.2 L315.0,328.4 L316.5,327.6 L318.0,326.9 L319.5,326.1 L321.0,325.4 L322.5,324.6 L324.0,323.9 L325.5,323.1 L327.0,322.4 L328.5,321.7 L330.0,321.0 L331.5,320.4 L333.0,319.7 L334.5,319.0 L336.0,318.4 L337.5,317.8 L339.0,317.2 L340.5,316.7 L342.0,316.1 L343.5,315.6 L345.0,315.1 L346.5,314.7 L348.0,314.2 L349.5,313.8 L351.0,313.4 L352.5,313.1 L354.0,312.8 L355.5,312.5 L357.0,312.3 L358.5,312.1 L360.0,311.9 L361.5,311.8 L363.0,311.7 L364.5,311.6 L366.0,311.6 L367.5,311.6 L369.0,311.7 L370.5,311.8 L372.0,312.0 L373.5,312.2 L375.0,312.4 L376.5,312.8 L378.0,313.1 L379.5,313.5 L381.0,314.0 L382.5,314.5 L384.0,315.1 L385.5,315.7 L387.0,316.3 L388.5,317.1 L390.0,317.8 L391.5,318.7 L393.0,319.5 L394.5,320.5 L396.0,321.4 L397.5,322.5 L399.0,323.5 L400.5,324.6 L402.0,325.8 L403.5,327.0 L405.0,328.3 L406.5,329.5 L408.0,330.9 L409.5,332.2 L411.0,333.6 L412.5,335.0 L414.0,336.5 L415.5,337.9 L417.0,339.4 L418.5,340.9 L420.0,342.4 L421.5,344.0 L423.0,345.5 L424.5,347.0 L426.0,348.6 L427.5,350.1 L429.0,351.7 L430.5,353.2 L432.0,354.8 L433.5,356.3 L435.0,357.8 L436.5,359.3 L438.0,360.8 L439.5,362.3 L441.0,363.7 L442.5,365.2 L444.0,366.6 L445.5,367.9 L447.0,369.3 L448.5,370.6 L450.0,371.8 L451.5,373.1 L453.0,374.3 L454.5,375.5 L456.0,376.6 L457.5,377.7 L459.0,378.8 L460.5,379.9 L462.0,380.9 L463.5,381.9 L465.0,382.9 L466.5,383.8 L468.0,384.7 L469.5,385.6 L471.0,386.5 L472.5,387.3 L474.0,388.1 L475.5,388.9 L477.0,389.6 L478.5,390.3 L480.0,391.0 L481.5,391.7 L483.0,392.3 L484.5,393.0 L486.0,393.5 L487.5,394.1 L489.0,394.7 L490.5,395.2 L492.0,395.7 L493.5,396.1 L495.0,396.6 L496.5,397.0 L498.0,397.4 L499.5,397.8 L501.0,398.1 L502.5,398.4 L504.0,398.8 L505.5,399.0 L507.0,399.3 L508.5,399.5 L510.0,399.8 L511.5,400.0 L513.0,400.2 L514.5,400.3 L516.0,400.5 L517.5,400.6 L519.0,400.7 L520.5,400.7 L522.0,400.7 L523.5,400.7 L525.0,400.7 L526.5,400.7 L528.0,400.7 L529.5,400.7 L531.0,400.7 L532.5,400.7 L534.0,400.7 L535.5,400.7 L537.0,400.7 L538.5,400.7 L540.0,400.7 L541.5,400.7 L542.0,400.7" fill="none" stroke="#ff0000" stroke-width="1.4" stroke-linejoin="round" />
<path d="M572.4,399.5 L573.9,399.5 L575.4,399.4 L576.9,399.3 L578.4,399.1 L579.9,399.0 L581.4,398.7 L582.9,398.5 L584.4,398.2 L585.9,397.8 L587.4,397.4 L588.9,397.0 L590.4,396.6 L591.9,396.1 L593.4,395.5 L594.9,394.9 L596.4,394.3 L597.9,393.7 L599.4,393.0 L600.9,392.2 L602.4,391.4 L603.9,390.6 L605.4,389.8 L606.9,388.9 L608.4,387.9 L609.9,387.0 L611.4,385.9 L612.9,384.9 L614.4,383.8 L615.9,382.7 L617.4,381.5 L618.9,380.3 L620.4,379.0 L621.9,377.8 L623.4,376.4 L624.9,375.1 L626.4,373.7 L627.9,372.2 L629.4,370.7 L630.9,369.2 L632.4,367.7 L633.9,366.1 L635.4,364.4 L636.9,362.8 L638.4,361.1 L639.9,359.4 L641.4,357.6 L642.9,355.9 L644.4,354.1 L645.9,352.3 L647.4,350.4 L648.9,348.6 L650.4,346.7 L651.9,344.9 L653.4,343.0 L654.9,341.1 L656.4,339.2 L657.9,337.3 L659.4,335.4 L660.9,333.5 L662.4,331.7 L663.9,329.8 L665.4,327.9 L666.9,326.0 L668.4,324.1 L669.9,322.3 L671.4,320.5 L672.9,318.6 L674.4,316.8 L675.9,315.1 L677.4,313.3 L678.9,311.6 L680.4,309.9 L681.9,308.2 L683.4,306.5 L684.9,304.9 L686.4,303.3 L687.9,301.8 L689.4,300.3 L690.9,298.8 L692.4,297.4 L693.9,296.0 L695.4,294.7 L696.9,293.4 L698.4,292.1 L699.9,290.9 L701.4,289.8 L702.9,288.7 L704.4,287.7 L705.9,286.7 L707.4,285.8 L708.9,284.9 L710.4,284.1 L711.9,283.4 L713.4,282.7 L714.9,282.1 L716.4,281.5 L717.9,281.1 L719.4,280.7 L720.9,280.3 L722.4,280.1 L723.9,279.9 L725.4,279.8 L726.9,279.7 L728.4,279.8 L729.9,279.8 L731.4,280.0 L732.9,280.2 L734.4,280.4 L735.9,280.7 L737.4,281.1 L738.9,281.4 L740.4,281.9 L741.9,282.3 L743.4,282.9 L744.9,283.4 L746.4,284.0 L747.9,284.6 L749.4,285.2 L750.9,285.8 L752.4,286.5 L753.9,287.2 L755.4,287.9 L756.9,288.6 L758.4,289.4 L759.9,290.2 L761.4,291.0 L762.9,291.8 L764.4,292.6 L765.9,293.4 L767.4,294.3 L768.9,295.2 L770.4,296.0 L771.9,296.9 L773.4,297.8 L774.9,298.7 L776.4,299.6 L777.9,300.6 L779.4,301.5 L780.9,302.4 L782.4,303.4 L783.9,304.3 L785.4,305.3 L786.9,306.2 L788.4,307.2 L789.9,308.1 L791.4,309.1 L792.9,310.0 L794.4,311.0 L795.9,311.9 L797.4,312.9 L798.9,313.8 L800.4,314.7 L801.9,315.7 L803.4,316.6 L804.9,317.5 L806.4,318.5 L807.9,319.4 L809.4,320.3 L810.9,321.2 L812.4,322.1 L813.9,323.1 L815.4,324.0 L816.9,324.9 L818.4,325.8 L819.9,326.7 L821.4,327.6 L822.9,328.5 L824.4,329.4 L825.9,330.3 L827.4,331.2 L828.9,332.0 L830.4,332.9 L831.9,333.8 L833.4,334.7 L834.9,335.6 L836.4,336.4 L837.9,337.3 L839.4,338.2 L840.9,339.0 L842.4,339.9 L843.9,340.8 L845.4,341.6 L846.9,342.5 L848.4,343.3 L849.9,344.2 L851.4,345.0 L852.9,345.9 L854.4,346.7 L855.9,347.6 L857.4,348.4 L858.9,349.2 L860.4,350.1 L861.9,350.9 L863.4,351.7 L864.9,352.5 L866.4,353.4 L867.9,354.2 L869.4,355.0 L870.9,355.8 L872.4,356.6 L873.9,357.4 L875.4,358.2 L876.9,359.0 L878.4,359.8 L879.9,360.6 L881.4,361.4 L882.9,362.2 L884.4,363.0 L885.9,363.8 L887.4,364.6 L888.9,365.4 L890.4,366.2 L891.9,367.0 L893.4,367.7 L894.9,368.5 L896.4,369.3 L897.9,370.0 L899.4,370.8 L900.9,371.6 L902.4,372.3 L903.9,373.1 L905.4,373.8 L906.9,374.5 L908.4,375.3 L909.9,376.0 L911.4,376.7 L912.9,377.4 L914.4,378.1 L915.9,378.8 L917.4,379.5 L918.9,380.2 L920.4,380.9 L921.9,381.6 L923.4,382.2 L924.9,382.9 L926.4,383.5 L927.9,384.2 L929.4,384.8 L930.9,385.4 L932.4,386.0 L933.9,386.6 L935.4,387.2 L936.9,387.8 L938.4,388.4 L939.9,389.0 L941.4,389.5 L942.9,390.1 L944.4,390.6 L945.9,391.1 L947.4,391.6 L948.9,392.1 L950.4,392.6 L951.9,393.1 L953.4,393.5 L954.9,394.0 L956.4,394.4 L957.9,394.9 L959.4,395.3 L960.9,395.7 L962.4,396.0 L963.9,396.4 L965.4,396.8 L966.9,397.1 L968.4,397.4 L969.9,397.7 L971.4,398.0 L972.9,398.3 L974.4,398.6 L975.9,398.8 L977.4,399.1 L978.9,399.3 L980.4,399.5 L981.9,399.7 L983.4,399.8 L984.9,400.0 L986.4,400.0 L987.9,400.0 L989.4,400.0 L990.9,400.0 L992.4,400.0 L993.9,400.0 L995.4,400.0 L996.9,400.0 L998.4,400.0 L999.9,400.0 L1001.4,400.0 L1002.9,400.0 L1004.4,400.0 L1005.9,400.0 L1007.4,400.0 L1008.9,400.0 L1010.4,400.0 L1011.9,400.0 L1013.4,400.0 L1014.9,400.0 L1016.4,400.0 L1017.9,400.0 L1018.0,400.0" fill="none" stroke="#0000ff" stroke-width="1.4" stroke-linejoin="round" />
<path d="M572.4,398.8 L573.9,398.8 L575.4,398.8 L576.9,398.8 L578.4,398.8 L579.9,398.8 L581.4,398.8 L582.9,398.8 L584.4,398.8 L585.9,398.7 L587.4,398.6 L588.9,398.5 L590.4,398.3 L591.9,398.1 L593.4,397.9 L594.9,397.7 L596.4,397.4 L597.9,397.1 L599.4,396.8 L600.9,396.5 L602.4,396.1 L603.9,395.7 L605.4,395.3 L606.9,394.9 L608.4,394.4 L609.9,394.0 L611.4,393.5 L612.9,392.9 L614.4,392.4 L615.9,391.8 L617.4,391.3 L618.9,390.7 L620.4,390.0 L621.9,389.4 L623.4,388.7 L624.9,388.0 L626.4,387.3 L627.9,386.6 L629.4,385.9 L630.9,385.2 L632.4,384.4 L633.9,383.6 L635.4,382.8 L636.9,382.0 L638.4,381.2 L639.9,380.3 L641.4,379.5 L642.9,378.6 L644.4,377.7 L645.9,376.8 L647.4,375.9 L648.9,375.0 L650.4,374.1 L651.9,373.1 L653.4,372.2 L654.9,371.2 L656.4,370.2 L657.9,369.2 L659.4,368.3 L660.9,367.3 L662.4,366.2 L663.9,365.2 L665.4,364.2 L666.9,363.2 L668.4,362.1 L669.9,361.1 L671.4,360.0 L672.9,359.0 L674.4,357.9 L675.9,356.8 L677.4,355.8 L678.9,354.7 L680.4,353.6 L681.9,352.5 L683.4,351.4 L684.9,350.4 L686.4,349.3 L687.9,348.2 L689.4,347.1 L690.9,346.0 L692.4,344.9 L693.9,343.8 L695.4,342.7 L696.9,341.6 L698.4,340.5 L699.9,339.5 L701.4,338.4 L702.9,337.3 L704.4,336.3 L705.9,335.2 L707.4,334.2 L708.9,333.2 L710.4,332.2 L711.9,331.2 L713.4,330.2 L714.9,329.2 L716.4,328.3 L717.9,327.3 L719.4,326.4 L720.9,325.5 L722.4,324.6 L723.9,323.7 L725.4,322.9 L726.9,322.0 L728.4,321.1 L729.9,320.3 L731.4,319.5 L732.9,318.7 L734.4,317.9 L735.9,317.1 L737.4,316.3 L738.9,315.5 L740.4,314.8 L741.9,314.0 L743.4,313.3 L744.9,312.6 L746.4,311.8 L747.9,311.1 L749.4,310.5 L750.9,309.8 L752.4,309.1 L753.9,308.5 L755.4,307.8 L756.9,307.2 L758.4,306.6 L759.9,306.0 L761.4,305.4 L762.9,304.8 L764.4,304.3 L765.9,303.7 L767.4,303.2 L768.9,302.7 L770.4,302.2 L771.9,301.7 L773.4,301.2 L774.9,300.8 L776.4,300.3 L777.9,299.9 L779.4,299.5 L780.9,299.1 L782.4,298.7 L783.9,298.3 L785.4,298.0 L786.9,297.7 L788.4,297.4 L789.9,297.1 L791.4,296.8 L792.9,296.5 L794.4,296.3 L795.9,296.1 L797.4,295.9 L798.9,295.7 L800.4,295.5 L801.9,295.4 L803.4,295.2 L804.9,295.1 L806.4,295.0 L807.9,295.0 L809.4,294.9 L810.9,294.9 L812.4,294.9 L813.9,294.9 L815.4,294.9 L816.9,295.0 L818.4,295.0 L819.9,295.1 L821.4,295.2 L822.9,295.4 L824.4,295.5 L825.9,295.7 L827.4,295.9 L828.9,296.2 L830.4,296.4 L831.9,296.7 L833.4,297.0 L834.9,297.3 L836.4,297.7 L837.9,298.0 L839.4,298.4 L840.9,298.8 L842.4,299.3 L843.9,299.8 L845.4,300.3 L846.9,300.8 L848.4,301.3 L849.9,301.9 L851.4,302.5 L852.9,303.1 L854.4,303.8 L855.9,304.4 L857.4,305.1 L858.9,305.9 L860.4,306.6 L861.9,307.4 L863.4,308.2 L864.9,309.1 L866.4,310.0 L867.9,310.9 L869.4,311.8 L870.9,312.7 L872.4,313.7 L873.9,314.7 L875.4,315.8 L876.9,316.9 L878.4,318.0 L879.9,319.1 L881.4,320.3 L882.9,321.5 L884.4,322.7 L885.9,324.0 L887.4,325.2 L888.9,326.6 L890.4,327.9 L891.9,329.3 L893.4,330.7 L894.9,332.1 L896.4,333.6 L897.9,335.0 L899.4,336.5 L900.9,338.0 L902.4,339.5 L903.9,341.0 L905.4,342.6 L906.9,344.1 L908.4,345.6 L909.9,347.1 L911.4,348.7 L912.9,350.2 L914.4,351.7 L915.9,353.2 L917.4,354.7 L918.9,356.2 L920.4,357.6 L921.9,359.1 L923.4,360.5 L924.9,361.9 L926.4,363.3 L927.9,364.6 L929.4,366.0 L930.9,367.3 L932.4,368.6 L933.9,369.9 L935.4,371.2 L936.9,372.4 L938.4,373.6 L939.9,374.8 L941.4,375.9 L942.9,377.1 L944.4,378.2 L945.9,379.2 L947.4,380.3 L948.9,381.3 L950.4,382.3 L951.9,383.2 L953.4,384.1 L954.9,385.0 L956.4,385.8 L957.9,386.7 L959.4,387.4 L960.9,388.2 L962.4,388.9 L963.9,389.6 L965.4,390.3 L966.9,391.0 L968.4,391.6 L969.9,392.2 L971.4,392.7 L972.9,393.3 L974.4,393.8 L975.9,394.3 L977.4,394.7 L978.9,395.2 L980.4,395.6 L981.9,396.0 L983.4,396.3 L984.9,396.7 L986.4,397.0 L987.9,397.3 L989.4,397.5 L990.9,397.8 L992.4,398.0 L993.9,398.2 L995.4,398.4 L996.9,398.6 L998.4,398.7 L999.9,398.8 L1001.4,398.9 L1002.9,399.0 L1004.4,399.1 L1005.9,399.1 L1007.4,399.1 L1008.9,399.1 L1010.4,399.1 L1011.9,399.1 L1013.4,399.1 L1014.9,399.1 L1016.4,399.1 L1017.9,399.1 L1018.0,399.1" fill="none" stroke="#ff0000" stroke-width="1.4" stroke-linejoin="round" />
</g>
<g filter="url(#soft)">
<line x1="244.5" y1="73" x2="244.5" y2="213.2" stroke="#000" stroke-width="1.8" stroke-dasharray="10.3 9 2.2 8.8" stroke-dashoffset="22.3" />
<line x1="393.0" y1="73" x2="393.0" y2="213.2" stroke="#222" stroke-width="1.7" />
<line x1="718.2" y1="73" x2="718.2" y2="213.0" stroke="#000" stroke-width="1.8" stroke-dasharray="10.3 9 2.2 8.8" stroke-dashoffset="22.3" />
<line x1="866.7" y1="73" x2="866.7" y2="213.0" stroke="#222" stroke-width="1.7" />
<line x1="301.8" y1="262.1" x2="301.8" y2="401.5" stroke="#000" stroke-width="1.8" stroke-dasharray="10.3 9 2.2 8.8" stroke-dashoffset="21.4" />
<line x1="507.4" y1="262.1" x2="507.4" y2="401.5" stroke="#222" stroke-width="1.7" />
<line x1="777.9" y1="260.6" x2="777.9" y2="400.4" stroke="#000" stroke-width="1.8" stroke-dasharray="10.3 9 2.2 8.8" stroke-dashoffset="20.9" />
<line x1="983.4" y1="260.6" x2="983.4" y2="400.4" stroke="#222" stroke-width="1.7" />

<rect x="393.5" y="82" width="143.4" height="58" fill="#fff" stroke="#1a1a1a" stroke-width="1.9"/>
<line x1="402.5" y1="96.5" x2="452.6" y2="96.5" stroke="#0000ff" stroke-width="2.6"/>
<line x1="402.5" y1="122.5" x2="452.6" y2="122.5" stroke="#ff0000" stroke-width="2.6"/>

</g>
<g>
<line x1="402.5" y1="96.5" x2="452.6" y2="96.5" stroke="#0000ff" stroke-width="1.4"/>
<line x1="402.5" y1="122.5" x2="452.6" y2="122.5" stroke="#ff0000" stroke-width="1.4"/>
</g>
<g font-family="Liberation Sans, Arial, sans-serif" fill="#1e1e1e" stroke="#1e1e1e" stroke-width="0.25">

<text x="458.2" y="105.3" font-size="20.5" textLength="70" lengthAdjust="spacingAndGlyphs">electron</text>
<text x="458.2" y="131.3" font-size="20.5" textLength="36" lengthAdjust="spacingAndGlyphs">hole</text>

<text transform="translate(96.0,235.6) scale(0.95,1)" text-anchor="middle" font-size="21.2">0</text>
<text transform="translate(170.2,235.6) scale(0.95,1)" text-anchor="middle" font-size="21.2">0.5</text>
<text transform="translate(244.5,235.6) scale(0.95,1)" text-anchor="middle" font-size="21.2">1</text>
<text transform="translate(318.8,235.6) scale(0.95,1)" text-anchor="middle" font-size="21.2">1.5</text>
<text transform="translate(393.0,235.6) scale(0.95,1)" text-anchor="middle" font-size="21.2">2</text>
<text transform="translate(467.2,235.6) scale(0.95,1)" text-anchor="middle" font-size="21.2">2.5</text>
<text transform="translate(541.5,235.6) scale(0.95,1)" text-anchor="middle" font-size="21.2">3</text>
<text transform="translate(569.7,235.2) scale(0.95,1)" text-anchor="middle" font-size="21.2">0</text>
<text transform="translate(644.0,235.2) scale(0.95,1)" text-anchor="middle" font-size="21.2">0.5</text>
<text transform="translate(718.2,235.2) scale(0.95,1)" text-anchor="middle" font-size="21.2">1</text>
<text transform="translate(792.5,235.2) scale(0.95,1)" text-anchor="middle" font-size="21.2">1.5</text>
<text transform="translate(866.7,235.2) scale(0.95,1)" text-anchor="middle" font-size="21.2">2</text>
<text transform="translate(941.0,235.2) scale(0.95,1)" text-anchor="middle" font-size="21.2">2.5</text>
<text transform="translate(1015.2,235.2) scale(0.95,1)" text-anchor="middle" font-size="21.2">3</text>
<text transform="translate(96.2,424.8) scale(0.95,1)" text-anchor="middle" font-size="21.2">0</text>
<text transform="translate(164.7,424.8) scale(0.95,1)" text-anchor="middle" font-size="21.2">2</text>
<text transform="translate(233.3,424.8) scale(0.95,1)" text-anchor="middle" font-size="21.2">4</text>
<text transform="translate(301.8,424.8) scale(0.95,1)" text-anchor="middle" font-size="21.2">6</text>
<text transform="translate(370.4,424.8) scale(0.95,1)" text-anchor="middle" font-size="21.2">8</text>
<text transform="translate(438.9,424.8) scale(0.95,1)" text-anchor="middle" font-size="21.2">10</text>
<text transform="translate(507.4,424.8) scale(0.95,1)" text-anchor="middle" font-size="21.2">12</text>
<text transform="translate(572.4,423.6) scale(0.95,1)" text-anchor="middle" font-size="21.2">0</text>
<text transform="translate(640.9,423.6) scale(0.95,1)" text-anchor="middle" font-size="21.2">2</text>
<text transform="translate(709.4,423.6) scale(0.95,1)" text-anchor="middle" font-size="21.2">4</text>
<text transform="translate(777.9,423.6) scale(0.95,1)" text-anchor="middle" font-size="21.2">6</text>
<text transform="translate(846.4,423.6) scale(0.95,1)" text-anchor="middle" font-size="21.2">8</text>
<text transform="translate(914.9,423.6) scale(0.95,1)" text-anchor="middle" font-size="21.2">10</text>
<text transform="translate(983.4,423.6) scale(0.95,1)" text-anchor="middle" font-size="21.2">12</text>
<text transform="translate(89.8,220.6) scale(0.95,1)" text-anchor="end" font-size="21.2">0</text>
<text transform="translate(89.8,160.6) scale(0.95,1)" text-anchor="end" font-size="21.2">0.5</text>
<text transform="translate(89.8,100.6) scale(0.95,1)" text-anchor="end" font-size="21.2">1</text>
<text transform="translate(89.8,408.9) scale(0.95,1)" text-anchor="end" font-size="21.2">0</text>
<text transform="translate(89.8,349.1) scale(0.95,1)" text-anchor="end" font-size="21.2">0.5</text>
<text transform="translate(89.8,289.4) scale(0.95,1)" text-anchor="end" font-size="21.2">1</text>
</g>
<g font-family="Liberation Sans, Arial, sans-serif" stroke="#000" stroke-width="0.25">

<g transform="translate(42.3,0) rotate(-90)" font-size="27.5" fill="#000">
<text x="-386.5" y="0" textLength="65" lengthAdjust="spacing"><tspan font-style="italic">&#961;</tspan>(<tspan font-style="italic">r</tspan>) <tspan font-style="italic">r</tspan></text>
<text x="-313.2" y="-16.8" font-size="23">2</text>
<text x="-289.5" y="0" textLength="204.5" lengthAdjust="spacing">(1/length) (a.u.)</text>
</g>


<text x="198" y="451.7" font-size="23" fill="#000" textLength="238" lengthAdjust="spacingAndGlyphs">Radial coordinate (nm)</text>
<text x="673.7" y="450.5" font-size="23" fill="#000" textLength="241" lengthAdjust="spacingAndGlyphs">Radial coordinate (nm)</text>

</g>

<text x="232.6" y="36.3" font-family="Liberation Serif, 'Times New Roman', serif" font-size="40.5" fill="#000" stroke="#000" stroke-width="0.3" textLength="154" lengthAdjust="spacingAndGlyphs">PbSe/PbS</text>
<text x="643" y="36.4" font-family="Liberation Serif, 'Times New Roman', serif" font-size="39" fill="#000" stroke="#000" stroke-width="0.3">PbSe/PbSe<tspan font-size="25.5" dy="10">0.75</tspan><tspan dy="-10">S</tspan><tspan font-size="25.5" dy="10">0.25</tspan></text>

</svg>
</body></html>
